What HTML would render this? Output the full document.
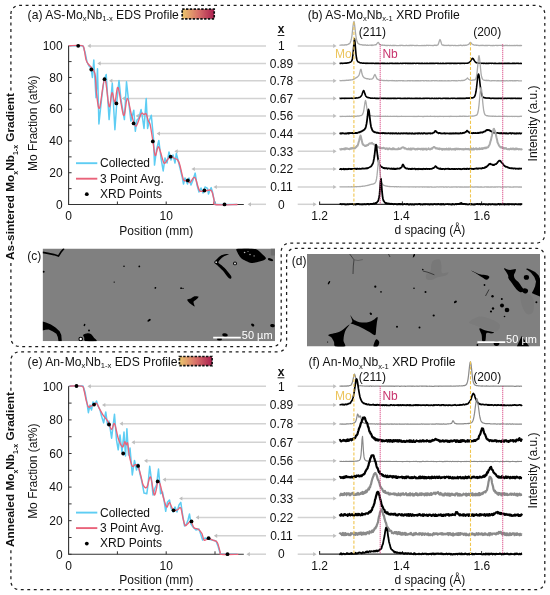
<!DOCTYPE html>
<html><head><meta charset="utf-8"><style>
html,body{margin:0;padding:0;background:#fff;width:550px;height:595px;overflow:hidden}
svg{display:block}
text{font-family:'Liberation Sans', Arial, Helvetica, sans-serif;fill:#111}
</style></head><body>
<svg width="550" height="595" viewBox="0 0 550 595">
<defs>
<linearGradient id="g1" x1="0" x2="1" y1="0" y2="0">
<stop offset="0" stop-color="#ebc66c"/><stop offset="0.5" stop-color="#d9726a"/><stop offset="1" stop-color="#ab1f50"/>
</linearGradient>
</defs>
<rect width="550" height="595" fill="#fff"/>
<path d="M10.9,13.9 A8.5,8.5 0 0 1 19.4,5.4 H536.3 A8.5,8.5 0 0 1 544.8,13.9 V234.6 A8.5,8.5 0 0 1 536.3,243.1 H289.7 A8.5,8.5 0 0 0 281.2,251.6 V338.0 A8.5,8.5 0 0 1 272.7,346.5 H19.4 A8.5,8.5 0 0 1 10.9,338.0 Z" fill="none" stroke="#1c1c1c" stroke-width="1.25" stroke-dasharray="2.9 3.6"/>
<path d="M286.6,256.8 A8.5,8.5 0 0 1 295.1,248.3 H536.3 A8.5,8.5 0 0 1 544.8,256.8 V581.2 A8.5,8.5 0 0 1 536.3,589.7 H19.4 A8.5,8.5 0 0 1 10.9,581.2 V360.3 A8.5,8.5 0 0 1 19.4,351.8 H278.1 A8.5,8.5 0 0 0 286.6,343.3 Z" fill="none" stroke="#1c1c1c" stroke-width="1.25" stroke-dasharray="2.9 3.6"/>
<g transform="translate(14.2,176.55) rotate(-90)"><rect x="-83.95" y="-9.5" width="167.9" height="12.5" fill="#fff"/><text x="0" y="0" text-anchor="middle" font-weight="bold" font-size="11.8">As-sintered Mo<tspan font-size="7" dy="3.4">x</tspan><tspan dy="-3.4">Nb</tspan><tspan font-size="7" dy="3.4">1-x</tspan><tspan dy="-3.4"> Gradient</tspan></text></g>
<g transform="translate(14.2,469.5) rotate(-90)"><rect x="-78" y="-9.5" width="156" height="12.5" fill="#fff"/><text x="0" y="0" text-anchor="middle" font-weight="bold" font-size="11.8">Annealed Mo<tspan font-size="7" dy="3.4">x</tspan><tspan dy="-3.4">Nb</tspan><tspan font-size="7" dy="3.4">1-x</tspan><tspan dy="-3.4"> Gradient</tspan></text></g>
<text transform="translate(36.6,123.25) rotate(-90)" text-anchor="middle" font-size="12">Mo Fraction (at%)</text>
<text transform="translate(36.6,471.2) rotate(-90)" text-anchor="middle" font-size="12">Mo Fraction (at%)</text>
<text transform="translate(536.8,123.4) rotate(-90)" text-anchor="middle" font-size="12">Intensity (a.u.)</text>
<text transform="translate(536.8,470.4) rotate(-90)" text-anchor="middle" font-size="12">Intensity (a.u.)</text>
<text x="27.6" y="18.6" font-size="12.15">(a) AS-<tspan dx="0.6">Mo</tspan><tspan font-size="7.6" dy="2.4">x</tspan><tspan dy="-2.4">Nb</tspan><tspan font-size="7.6" dy="2.4">1-x</tspan><tspan dy="-2.4"> EDS Profile</tspan></text>
<rect x="182.2" y="9.1" width="32.0" height="9.700000000000001" fill="url(#g1)" stroke="#111" stroke-width="1.7" stroke-dasharray="2.4 1.4"/>
<text x="307.7" y="18.5" font-size="12.15">(b) AS-<tspan dx="0.6">Mo</tspan><tspan font-size="7.6" dy="2.4">x</tspan><tspan dy="-2.4">Nb</tspan><tspan font-size="7.6" dy="2.4">x-1</tspan><tspan dy="-2.4"> XRD Profile</tspan></text>
<text x="27.6" y="365.9" font-size="12.15">(e) An-<tspan dx="0.6">Mo</tspan><tspan font-size="7.6" dy="2.4">x</tspan><tspan dy="-2.4">Nb</tspan><tspan font-size="7.6" dy="2.4">1-x</tspan><tspan dy="-2.4"> EDS Profile</tspan></text>
<rect x="179.4" y="356.5" width="32.69999999999999" height="9.199999999999989" fill="url(#g1)" stroke="#111" stroke-width="1.7" stroke-dasharray="2.4 1.4"/>
<text x="308.4" y="366.4" font-size="12.15">(f) An-<tspan dx="0.6">Mo</tspan><tspan font-size="7.6" dy="2.4">x</tspan><tspan dy="-2.4">Nb</tspan><tspan font-size="7.6" dy="2.4">x-1</tspan><tspan dy="-2.4"> XRD Profile</tspan></text>
<text x="281" y="33.2" text-anchor="middle" font-size="12" font-weight="bold">x</text>
<line x1="277.6" y1="35.5" x2="284.4" y2="35.5" stroke="#222" stroke-width="1"/>
<line x1="89.3" y1="45.9" x2="266" y2="45.9" stroke="#d2d2d2" stroke-width="1.5"/><path d="M87.3,45.9 l3.4,-2.1 v4.2 z" fill="#bdbdbd"/>
<text x="281.4" y="50.1" text-anchor="middle" font-size="12">1</text>
<line x1="297.7" y1="45.9" x2="334.6" y2="45.9" stroke="#d2d2d2" stroke-width="1.5"/><path d="M336.6,45.9 l-3.4,-2.1 v4.2 z" fill="#bdbdbd"/>
<line x1="99.3" y1="63.4" x2="266" y2="63.4" stroke="#d2d2d2" stroke-width="1.5"/><path d="M97.3,63.4 l3.4,-2.1 v4.2 z" fill="#bdbdbd"/>
<text x="281.4" y="67.6" text-anchor="middle" font-size="12">0.89</text>
<line x1="297.7" y1="63.4" x2="334.6" y2="63.4" stroke="#d2d2d2" stroke-width="1.5"/><path d="M336.6,63.4 l-3.4,-2.1 v4.2 z" fill="#bdbdbd"/>
<line x1="111" y1="80.8" x2="266" y2="80.8" stroke="#d2d2d2" stroke-width="1.5"/><path d="M109,80.8 l3.4,-2.1 v4.2 z" fill="#bdbdbd"/>
<text x="281.4" y="85" text-anchor="middle" font-size="12">0.78</text>
<line x1="297.7" y1="80.8" x2="334.6" y2="80.8" stroke="#d2d2d2" stroke-width="1.5"/><path d="M336.6,80.8 l-3.4,-2.1 v4.2 z" fill="#bdbdbd"/>
<line x1="123.8" y1="98.4" x2="266" y2="98.4" stroke="#d2d2d2" stroke-width="1.5"/><path d="M121.8,98.4 l3.4,-2.1 v4.2 z" fill="#bdbdbd"/>
<text x="281.4" y="102.6" text-anchor="middle" font-size="12">0.67</text>
<line x1="297.7" y1="98.4" x2="334.6" y2="98.4" stroke="#d2d2d2" stroke-width="1.5"/><path d="M336.6,98.4 l-3.4,-2.1 v4.2 z" fill="#bdbdbd"/>
<line x1="137.5" y1="115.9" x2="266" y2="115.9" stroke="#d2d2d2" stroke-width="1.5"/><path d="M135.5,115.9 l3.4,-2.1 v4.2 z" fill="#bdbdbd"/>
<text x="281.4" y="120.1" text-anchor="middle" font-size="12">0.56</text>
<line x1="297.7" y1="115.9" x2="334.6" y2="115.9" stroke="#d2d2d2" stroke-width="1.5"/><path d="M336.6,115.9 l-3.4,-2.1 v4.2 z" fill="#bdbdbd"/>
<line x1="158.6" y1="133.6" x2="266" y2="133.6" stroke="#d2d2d2" stroke-width="1.5"/><path d="M156.6,133.6 l3.4,-2.1 v4.2 z" fill="#bdbdbd"/>
<text x="281.4" y="137.8" text-anchor="middle" font-size="12">0.44</text>
<line x1="297.7" y1="133.6" x2="334.6" y2="133.6" stroke="#d2d2d2" stroke-width="1.5"/><path d="M336.6,133.6 l-3.4,-2.1 v4.2 z" fill="#bdbdbd"/>
<line x1="176.3" y1="151.3" x2="266" y2="151.3" stroke="#d2d2d2" stroke-width="1.5"/><path d="M174.3,151.3 l3.4,-2.1 v4.2 z" fill="#bdbdbd"/>
<text x="281.4" y="155.5" text-anchor="middle" font-size="12">0.33</text>
<line x1="297.7" y1="151.3" x2="334.6" y2="151.3" stroke="#d2d2d2" stroke-width="1.5"/><path d="M336.6,151.3 l-3.4,-2.1 v4.2 z" fill="#bdbdbd"/>
<line x1="193.4" y1="169" x2="266" y2="169" stroke="#d2d2d2" stroke-width="1.5"/><path d="M191.4,169 l3.4,-2.1 v4.2 z" fill="#bdbdbd"/>
<text x="281.4" y="173.2" text-anchor="middle" font-size="12">0.22</text>
<line x1="297.7" y1="169" x2="334.6" y2="169" stroke="#d2d2d2" stroke-width="1.5"/><path d="M336.6,169 l-3.4,-2.1 v4.2 z" fill="#bdbdbd"/>
<line x1="215.4" y1="187" x2="266" y2="187" stroke="#d2d2d2" stroke-width="1.5"/><path d="M213.4,187 l3.4,-2.1 v4.2 z" fill="#bdbdbd"/>
<text x="281.4" y="191.2" text-anchor="middle" font-size="12">0.11</text>
<line x1="297.7" y1="187" x2="334.6" y2="187" stroke="#d2d2d2" stroke-width="1.5"/><path d="M336.6,187 l-3.4,-2.1 v4.2 z" fill="#bdbdbd"/>
<line x1="249.6" y1="204.3" x2="266" y2="204.3" stroke="#d2d2d2" stroke-width="1.5"/><path d="M247.6,204.3 l3.4,-2.1 v4.2 z" fill="#bdbdbd"/>
<text x="281.4" y="208.5" text-anchor="middle" font-size="12">0</text>
<line x1="297.7" y1="204.3" x2="314.6" y2="204.3" stroke="#d2d2d2" stroke-width="1.5"/><path d="M316.6,204.3 l-3.4,-2.1 v4.2 z" fill="#bdbdbd"/>
<text x="281" y="375.5" text-anchor="middle" font-size="12" font-weight="bold">x</text>
<line x1="277.6" y1="377.8" x2="284.4" y2="377.8" stroke="#222" stroke-width="1"/>
<line x1="89.4" y1="386.3" x2="266" y2="386.3" stroke="#d2d2d2" stroke-width="1.5"/><path d="M87.4,386.3 l3.4,-2.1 v4.2 z" fill="#bdbdbd"/>
<text x="281.4" y="390.5" text-anchor="middle" font-size="12">1</text>
<line x1="297.7" y1="386.3" x2="334.6" y2="386.3" stroke="#d2d2d2" stroke-width="1.5"/><path d="M336.6,386.3 l-3.4,-2.1 v4.2 z" fill="#bdbdbd"/>
<line x1="103.9" y1="405" x2="266" y2="405" stroke="#d2d2d2" stroke-width="1.5"/><path d="M101.9,405 l3.4,-2.1 v4.2 z" fill="#bdbdbd"/>
<text x="281.4" y="409.2" text-anchor="middle" font-size="12">0.89</text>
<line x1="297.7" y1="405" x2="334.6" y2="405" stroke="#d2d2d2" stroke-width="1.5"/><path d="M336.6,405 l-3.4,-2.1 v4.2 z" fill="#bdbdbd"/>
<line x1="121.5" y1="423.7" x2="266" y2="423.7" stroke="#d2d2d2" stroke-width="1.5"/><path d="M119.5,423.7 l3.4,-2.1 v4.2 z" fill="#bdbdbd"/>
<text x="281.4" y="427.9" text-anchor="middle" font-size="12">0.78</text>
<line x1="297.7" y1="423.7" x2="334.6" y2="423.7" stroke="#d2d2d2" stroke-width="1.5"/><path d="M336.6,423.7 l-3.4,-2.1 v4.2 z" fill="#bdbdbd"/>
<line x1="133.4" y1="442.3" x2="266" y2="442.3" stroke="#d2d2d2" stroke-width="1.5"/><path d="M131.4,442.3 l3.4,-2.1 v4.2 z" fill="#bdbdbd"/>
<text x="281.4" y="446.5" text-anchor="middle" font-size="12">0.67</text>
<line x1="297.7" y1="442.3" x2="334.6" y2="442.3" stroke="#d2d2d2" stroke-width="1.5"/><path d="M336.6,442.3 l-3.4,-2.1 v4.2 z" fill="#bdbdbd"/>
<line x1="146" y1="460.8" x2="266" y2="460.8" stroke="#d2d2d2" stroke-width="1.5"/><path d="M144,460.8 l3.4,-2.1 v4.2 z" fill="#bdbdbd"/>
<text x="281.4" y="465" text-anchor="middle" font-size="12">0.56</text>
<line x1="297.7" y1="460.8" x2="334.6" y2="460.8" stroke="#d2d2d2" stroke-width="1.5"/><path d="M336.6,460.8 l-3.4,-2.1 v4.2 z" fill="#bdbdbd"/>
<line x1="164.5" y1="479.6" x2="266" y2="479.6" stroke="#d2d2d2" stroke-width="1.5"/><path d="M162.5,479.6 l3.4,-2.1 v4.2 z" fill="#bdbdbd"/>
<text x="281.4" y="483.8" text-anchor="middle" font-size="12">0.44</text>
<line x1="297.7" y1="479.6" x2="334.6" y2="479.6" stroke="#d2d2d2" stroke-width="1.5"/><path d="M336.6,479.6 l-3.4,-2.1 v4.2 z" fill="#bdbdbd"/>
<line x1="181" y1="498.5" x2="266" y2="498.5" stroke="#d2d2d2" stroke-width="1.5"/><path d="M179,498.5 l3.4,-2.1 v4.2 z" fill="#bdbdbd"/>
<text x="281.4" y="502.7" text-anchor="middle" font-size="12">0.33</text>
<line x1="297.7" y1="498.5" x2="334.6" y2="498.5" stroke="#d2d2d2" stroke-width="1.5"/><path d="M336.6,498.5 l-3.4,-2.1 v4.2 z" fill="#bdbdbd"/>
<line x1="197.6" y1="517.4" x2="266" y2="517.4" stroke="#d2d2d2" stroke-width="1.5"/><path d="M195.6,517.4 l3.4,-2.1 v4.2 z" fill="#bdbdbd"/>
<text x="281.4" y="521.6" text-anchor="middle" font-size="12">0.22</text>
<line x1="297.7" y1="517.4" x2="334.6" y2="517.4" stroke="#d2d2d2" stroke-width="1.5"/><path d="M336.6,517.4 l-3.4,-2.1 v4.2 z" fill="#bdbdbd"/>
<line x1="215.8" y1="535.8" x2="266" y2="535.8" stroke="#d2d2d2" stroke-width="1.5"/><path d="M213.8,535.8 l3.4,-2.1 v4.2 z" fill="#bdbdbd"/>
<text x="281.4" y="540" text-anchor="middle" font-size="12">0.11</text>
<line x1="297.7" y1="535.8" x2="334.6" y2="535.8" stroke="#d2d2d2" stroke-width="1.5"/><path d="M336.6,535.8 l-3.4,-2.1 v4.2 z" fill="#bdbdbd"/>
<line x1="248.4" y1="554.2" x2="266" y2="554.2" stroke="#d2d2d2" stroke-width="1.5"/><path d="M246.4,554.2 l3.4,-2.1 v4.2 z" fill="#bdbdbd"/>
<text x="281.4" y="558.4" text-anchor="middle" font-size="12">0</text>
<line x1="297.7" y1="554.2" x2="314.6" y2="554.2" stroke="#d2d2d2" stroke-width="1.5"/><path d="M316.6,554.2 l-3.4,-2.1 v4.2 z" fill="#bdbdbd"/>
<path d="M68.6,45.7 V204.5 H243.8" fill="none" stroke="#333" stroke-width="1.1"/>
<line x1="68.6" y1="204.5" x2="71.6" y2="204.5" stroke="#333" stroke-width="1"/>
<text x="62.7" y="208.7" text-anchor="end" font-size="12">0</text>
<line x1="68.6" y1="188.62" x2="71.6" y2="188.62" stroke="#333" stroke-width="1"/>
<line x1="68.6" y1="172.74" x2="71.6" y2="172.74" stroke="#333" stroke-width="1"/>
<text x="62.7" y="176.94" text-anchor="end" font-size="12">20</text>
<line x1="68.6" y1="156.86" x2="71.6" y2="156.86" stroke="#333" stroke-width="1"/>
<line x1="68.6" y1="140.98" x2="71.6" y2="140.98" stroke="#333" stroke-width="1"/>
<text x="62.7" y="145.18" text-anchor="end" font-size="12">40</text>
<line x1="68.6" y1="125.1" x2="71.6" y2="125.1" stroke="#333" stroke-width="1"/>
<line x1="68.6" y1="109.22" x2="71.6" y2="109.22" stroke="#333" stroke-width="1"/>
<text x="62.7" y="113.42" text-anchor="end" font-size="12">60</text>
<line x1="68.6" y1="93.34" x2="71.6" y2="93.34" stroke="#333" stroke-width="1"/>
<line x1="68.6" y1="77.46" x2="71.6" y2="77.46" stroke="#333" stroke-width="1"/>
<text x="62.7" y="81.66" text-anchor="end" font-size="12">80</text>
<line x1="68.6" y1="61.58" x2="71.6" y2="61.58" stroke="#333" stroke-width="1"/>
<line x1="68.6" y1="45.7" x2="71.6" y2="45.7" stroke="#333" stroke-width="1"/>
<text x="62.7" y="49.9" text-anchor="end" font-size="12">100</text>
<line x1="117.4" y1="204.5" x2="117.4" y2="201.5" stroke="#333" stroke-width="1"/>
<line x1="166.2" y1="204.5" x2="166.2" y2="201.5" stroke="#333" stroke-width="1"/>
<line x1="215" y1="204.5" x2="215" y2="201.5" stroke="#333" stroke-width="1"/>
<text x="68.6" y="219.7" text-anchor="middle" font-size="12">0</text>
<text x="166.2" y="219.7" text-anchor="middle" font-size="12">10</text>
<text x="156.3" y="234.5" text-anchor="middle" font-size="12">Position (mm)</text>
<polyline points="69,45.7 83,45.7 85,52 87,62 89,66 91,68 92.4,77.5 93.8,60 94.5,72 96,97.8 97.5,68.7 98.9,124 102,95 104,80 106.2,74.5 109.1,119.6 112.3,83.3 114.9,129.8 117,100 119,80.4 121,100 124.4,119.6 126.5,81.8 128.5,100 130.9,121.1 133.8,110.2 135.3,131.3 137,120 139,118 141.1,109.5 142.5,118 144,128.4 146.2,98.5 147.6,128.4 149.5,120 151.3,115.3 153.5,138.5 154.5,165.1 156.5,150 158.8,140.4 161,158 163.2,170.9 165,158 167,163 169,152 171,160 173,155 175,163 176.3,153.5 178,160 180,168 182.1,176.7 183.5,184 185,178 187.5,184 189,178 191,185 193,180 195.2,173.1 197,185 199,192 201,188 203,193 205,187 207.5,188.4 208.5,194 210,190 211.2,187.6 212.5,192 214,200 215,204.5 237,204.5" fill="none" stroke="#5ecdf3" stroke-width="1.5" stroke-linejoin="round"/>
<path d="M69,45.7 C71.2,45.7 79.63,44.83 82.2,45.7 C84.77,46.57 83.77,48.58 84.4,50.9 C85.03,53.22 85.37,57.42 86,59.6 C86.63,61.78 87.38,62.82 88.2,64 C89.02,65.18 89.97,65.55 90.9,66.7 C91.83,67.85 93.07,69.35 93.8,70.9 C94.53,72.45 94.82,72 95.3,76 C95.78,80 95.98,89.57 96.7,94.9 C97.42,100.23 98.27,110.67 99.6,108 C100.93,105.33 103.12,79.15 104.7,78.9 C106.28,78.65 107.88,104.2 109.1,106.5 C110.32,108.8 111.03,93.42 112,92.7 C112.97,91.98 113.88,103.05 114.9,102.2 C115.92,101.35 116.65,85.42 118.1,87.6 C119.55,89.78 122.07,113.48 123.6,115.3 C125.13,117.12 125.97,98.5 127.3,98.5 C128.63,98.5 130.15,110.68 131.6,115.3 C133.05,119.92 134.42,126.45 136,126.2 C137.58,125.95 139.77,115.75 141.1,113.8 C142.43,111.85 143.15,114.5 144,114.5 C144.85,114.5 145.47,112.7 146.2,113.8 C146.93,114.9 147.75,119.33 148.4,121.1 C149.05,122.87 149.33,120.95 150.1,124.4 C150.87,127.85 152.15,136.6 153,141.8 C153.85,147 154.35,154.75 155.2,155.6 C156.05,156.45 157.25,147.62 158.1,146.9 C158.95,146.18 159.33,148.63 160.3,151.3 C161.27,153.97 162.82,161.33 163.9,162.9 C164.98,164.47 165.7,161.78 166.8,160.7 C167.9,159.62 169.17,156.77 170.5,156.4 C171.83,156.03 173.6,157.9 174.8,158.5 C176,159.1 176.85,158.9 177.7,160 C178.55,161.1 178.93,161.83 179.9,165.1 C180.87,168.37 182.28,177.05 183.5,179.6 C184.72,182.15 186.1,179.92 187.2,180.4 C188.3,180.88 189.02,182.98 190.1,182.5 C191.18,182.02 192.73,177.98 193.7,177.5 C194.67,177.02 194.93,177.43 195.9,179.6 C196.87,181.77 198.05,188.6 199.5,190.5 C200.95,192.4 202.65,191 204.6,191 C206.55,191 209.62,189 211.2,190.5 C212.78,192 213.38,197.67 214.1,200 C214.82,202.33 211.6,203.75 215.5,204.5 C219.4,205.25 233.83,204.5 237.5,204.5" fill="none" stroke="#e9637a" stroke-width="1.35" stroke-linejoin="round"/>
<circle cx="78.2" cy="45.8" r="1.9" fill="#000"/>
<circle cx="91.3" cy="69.5" r="1.9" fill="#000"/>
<circle cx="104.5" cy="79.2" r="1.9" fill="#000"/>
<circle cx="116.4" cy="103.4" r="1.9" fill="#000"/>
<circle cx="133.6" cy="123.4" r="1.9" fill="#000"/>
<circle cx="152.8" cy="141.4" r="1.9" fill="#000"/>
<circle cx="170.6" cy="156.7" r="1.9" fill="#000"/>
<circle cx="187.8" cy="180.4" r="1.9" fill="#000"/>
<circle cx="204.4" cy="190.5" r="1.9" fill="#000"/>
<circle cx="224.5" cy="204.4" r="1.9" fill="#000"/>
<line x1="76" y1="163.2" x2="97.3" y2="163.2" stroke="#5ecdf3" stroke-width="1.9"/>
<text x="100" y="167.1" font-size="12">Collected</text>
<line x1="76" y1="178.7" x2="97.3" y2="178.7" stroke="#e9637a" stroke-width="1.9"/>
<text x="100" y="182.6" font-size="12">3 Point Avg.</text>
<circle cx="86.8" cy="194.2" r="1.9" fill="#000"/>
<text x="100" y="198" font-size="12">XRD Points</text>
<path d="M68.6,386.3 V554.3 H243.8" fill="none" stroke="#333" stroke-width="1.1"/>
<line x1="68.6" y1="554.3" x2="71.6" y2="554.3" stroke="#333" stroke-width="1"/>
<text x="62.7" y="558.5" text-anchor="end" font-size="12">0</text>
<line x1="68.6" y1="537.5" x2="71.6" y2="537.5" stroke="#333" stroke-width="1"/>
<line x1="68.6" y1="520.7" x2="71.6" y2="520.7" stroke="#333" stroke-width="1"/>
<text x="62.7" y="524.9" text-anchor="end" font-size="12">20</text>
<line x1="68.6" y1="503.9" x2="71.6" y2="503.9" stroke="#333" stroke-width="1"/>
<line x1="68.6" y1="487.1" x2="71.6" y2="487.1" stroke="#333" stroke-width="1"/>
<text x="62.7" y="491.3" text-anchor="end" font-size="12">40</text>
<line x1="68.6" y1="470.3" x2="71.6" y2="470.3" stroke="#333" stroke-width="1"/>
<line x1="68.6" y1="453.5" x2="71.6" y2="453.5" stroke="#333" stroke-width="1"/>
<text x="62.7" y="457.7" text-anchor="end" font-size="12">60</text>
<line x1="68.6" y1="436.7" x2="71.6" y2="436.7" stroke="#333" stroke-width="1"/>
<line x1="68.6" y1="419.9" x2="71.6" y2="419.9" stroke="#333" stroke-width="1"/>
<text x="62.7" y="424.1" text-anchor="end" font-size="12">80</text>
<line x1="68.6" y1="403.1" x2="71.6" y2="403.1" stroke="#333" stroke-width="1"/>
<line x1="68.6" y1="386.3" x2="71.6" y2="386.3" stroke="#333" stroke-width="1"/>
<text x="62.7" y="390.5" text-anchor="end" font-size="12">100</text>
<line x1="117.4" y1="554.3" x2="117.4" y2="551.3" stroke="#333" stroke-width="1"/>
<line x1="166.2" y1="554.3" x2="166.2" y2="551.3" stroke="#333" stroke-width="1"/>
<line x1="215" y1="554.3" x2="215" y2="551.3" stroke="#333" stroke-width="1"/>
<text x="68.6" y="570" text-anchor="middle" font-size="12">0</text>
<text x="166.2" y="570" text-anchor="middle" font-size="12">10</text>
<text x="156.3" y="583.6" text-anchor="middle" font-size="12">Position (mm)</text>
<polyline points="69.5,386.1 83,386.1 85,392 87,403 88.4,412.7 90,405 91.5,410 93,402 95,404 96.5,401 98,406 100,410 101.5,416 103.6,422.9 105.8,412 107.5,425 109,421 111.6,438.2 114.5,414.2 116.5,440 118.2,449.8 120,435 122,452 124,432 125.5,456 126.9,428.7 128.5,455 130,448 132.3,474.9 134.5,460.4 136.5,470 138,464 140,474 142,482 144,493 146.8,493.8 148,485 149.7,466.2 151.5,480 153,495 155,488 156.5,485 158.5,469.1 160.6,493.8 162.5,492 164,500 165.7,511.3 167.5,502 169.5,500 171,508 173,512 175,507 177,512 179,505 180.8,502.3 182.5,514 184.5,526 186.5,524 188,520 189.5,513.9 191,524 193,527 196,530 199,529 201,535 202.6,540 205,538 208,539 212,540 216,541 218,546 220,553 221.5,554.3 237,554.3" fill="none" stroke="#5ecdf3" stroke-width="1.5" stroke-linejoin="round"/>
<path d="M69.5,386.1 C71.55,386.1 79.38,385.42 81.8,386.1 C84.22,386.78 83.27,387.82 84,390.2 C84.73,392.58 85.47,397.62 86.2,400.4 C86.93,403.18 87.68,405.93 88.4,406.9 C89.12,407.87 89.78,406.43 90.5,406.2 C91.22,405.97 91.72,405.98 92.7,405.5 C93.68,405.02 95.3,402.82 96.4,403.3 C97.5,403.78 98.22,406.47 99.3,408.4 C100.38,410.33 101.82,413.22 102.9,414.9 C103.98,416.58 104.83,417.17 105.8,418.5 C106.77,419.83 107.73,421.07 108.7,422.9 C109.67,424.73 110.63,429.38 111.6,429.5 C112.57,429.62 113.4,422.15 114.5,423.6 C115.6,425.05 116.87,434.32 118.2,438.2 C119.53,442.08 121.42,446.3 122.5,446.9 C123.58,447.5 124.08,442.17 124.7,441.8 C125.32,441.43 125.72,444.45 126.2,444.7 C126.68,444.95 127.07,441.42 127.6,443.3 C128.13,445.18 128.62,452.18 129.4,456 C130.18,459.82 131.33,464.75 132.3,466.2 C133.27,467.65 134.23,464.7 135.2,464.7 C136.17,464.7 137.13,464.25 138.1,466.2 C139.07,468.15 140.15,473.25 141,476.4 C141.85,479.55 142.23,483.28 143.2,485.1 C144.17,486.92 145.58,488.63 146.8,487.3 C148.02,485.97 149.28,475.9 150.5,477.1 C151.72,478.3 153.13,492.43 154.1,494.5 C155.07,496.57 155.7,491.55 156.3,489.5 C156.9,487.45 157.1,483.18 157.7,482.2 C158.3,481.22 159.05,481.42 159.9,483.6 C160.75,485.78 161.7,491.42 162.8,495.3 C163.9,499.18 165.4,505.7 166.5,506.9 C167.6,508.1 168.43,502.25 169.4,502.5 C170.37,502.75 171.33,507.07 172.3,508.4 C173.27,509.73 174.27,510.32 175.2,510.5 C176.13,510.68 176.97,509.9 177.9,509.5 C178.83,509.1 179.95,506.63 180.8,508.1 C181.65,509.57 182.27,515.4 183,518.3 C183.73,521.2 184.35,524.65 185.2,525.5 C186.05,526.35 187.13,524.12 188.1,523.4 C189.07,522.68 190.03,520.48 191,521.2 C191.97,521.92 192.68,526.37 193.9,527.7 C195.12,529.03 196.97,528.23 198.3,529.2 C199.63,530.17 200.93,531.68 201.9,533.5 C202.87,535.32 203,539.25 204.1,540.1 C205.2,540.95 207.05,538.6 208.5,538.6 C209.95,538.6 211.35,539.48 212.8,540.1 C214.25,540.72 215.98,540.37 217.2,542.3 C218.42,544.23 219.38,549.7 220.1,551.7 C220.82,553.7 218.47,553.87 221.5,554.3 C224.53,554.73 235.5,554.3 238.3,554.3" fill="none" stroke="#e9637a" stroke-width="1.35" stroke-linejoin="round"/>
<circle cx="76.5" cy="386" r="1.9" fill="#000"/>
<circle cx="94.1" cy="404.6" r="1.9" fill="#000"/>
<circle cx="109" cy="424.5" r="1.9" fill="#000"/>
<circle cx="123.2" cy="453.5" r="1.9" fill="#000"/>
<circle cx="138.1" cy="465.9" r="1.9" fill="#000"/>
<circle cx="157.7" cy="481.4" r="1.9" fill="#000"/>
<circle cx="173.6" cy="510.3" r="1.9" fill="#000"/>
<circle cx="191.5" cy="521.4" r="1.9" fill="#000"/>
<circle cx="208.6" cy="538.2" r="1.9" fill="#000"/>
<circle cx="227.5" cy="554.2" r="1.9" fill="#000"/>
<line x1="76" y1="512.6" x2="97.3" y2="512.6" stroke="#5ecdf3" stroke-width="1.9"/>
<text x="100" y="516.5" font-size="12">Collected</text>
<line x1="76" y1="528.1" x2="97.3" y2="528.1" stroke="#e9637a" stroke-width="1.9"/>
<text x="100" y="532" font-size="12">3 Point Avg.</text>
<circle cx="86.8" cy="543.6" r="1.9" fill="#000"/>
<text x="100" y="547.4" font-size="12">XRD Points</text>
<path d="M319.6,201.4 V204.4 H522.2" fill="none" stroke="#333" stroke-width="1.1"/>
<line x1="402.4" y1="204.4" x2="402.4" y2="201.4" stroke="#333" stroke-width="1"/>
<line x1="481.6" y1="204.4" x2="481.6" y2="201.4" stroke="#333" stroke-width="1"/>
<text x="319.7" y="219.6" text-anchor="middle" font-size="12">1.2</text>
<text x="401.3" y="219.6" text-anchor="middle" font-size="12">1.4</text>
<text x="481.8" y="219.6" text-anchor="middle" font-size="12">1.6</text>
<text x="429.8" y="233.5" text-anchor="middle" font-size="12">d spacing (Å)</text>
<path d="M339.5,45.18 L340,45.28 L340.5,45.06 L341,45.17 L341.5,45.02 L342,44.96 L342.5,45.07 L343,44.96 L343.5,45.03 L344,45.2 L344.5,44.81 L345,45.05 L345.5,44.75 L346,45 L346.5,44.89 L347,44.53 L347.5,44.72 L348,44.5 L348.5,43.97 L349,43.87 L349.5,43.63 L350,43.15 L350.5,41.85 L351,40.41 L351.5,38.41 L352,35.28 L352.5,30.71 L353,26.13 L353.5,22.73 L354,21.47 L354.5,23.82 L355,28.35 L355.5,32.78 L356,36.53 L356.5,39.46 L357,41.32 L357.5,42.59 L358,43.28 L358.5,43.74 L359,43.81 L359.5,44.47 L360,44.65 L360.5,44.51 L361,44.76 L361.5,44.55 L362,44.87 L362.5,45 L363,44.89 L363.5,44.99 L364,45.24 L364.5,44.93 L365,45.12 L365.5,44.96 L366,45.13 L366.5,45.39 L367,45.28 L367.5,45 L368,45.42 L368.5,45.33 L369,45.27 L369.5,45.16 L370,45.16 L370.5,45.1 L371,45.32 L371.5,45.03 L372,45.46 L372.5,45.02 L373,45.26 L373.5,45.2 L374,45.04 L374.5,44.93 L375,44.9 L375.5,44.69 L376,44.76 L376.5,44.2 L377,43.55 L377.5,42.89 L378,42.42 L378.5,42.64 L379,43.31 L379.5,44.38 L380,44.72 L380.5,44.6 L381,45.02 L381.5,45.22 L382,45.36 L382.5,45 L383,45.08 L383.5,45.24 L384,45.37 L384.5,45.13 L385,45.45 L385.5,45.5 L386,45.35 L386.5,45.56 L387,45.34 L387.5,45.57 L388,45.35 L388.5,45.37 L389,45.36 L389.5,45.53 L390,45.62 L390.5,45.22 L391,45.48 L391.5,45.61 L392,45.54 L392.5,45.31 L393,45.38 L393.5,45.64 L394,45.31 L394.5,45.68 L395,45.4 L395.5,45.47 L396,45.56 L396.5,45.55 L397,45.51 L397.5,45.65 L398,45.53 L398.5,45.67 L399,45.54 L399.5,45.51 L400,45.25 L400.5,45.67 L401,45.33 L401.5,45.33 L402,45.24 L402.5,45.53 L403,45.41 L403.5,45.55 L404,45.63 L404.5,45.69 L405,45.62 L405.5,45.64 L406,45.41 L406.5,45.25 L407,45.61 L407.5,45.72 L408,45.46 L408.5,45.68 L409,45.51 L409.5,45.42 L410,45.64 L410.5,45.26 L411,45.41 L411.5,45.58 L412,45.27 L412.5,45.5 L413,45.42 L413.5,45.34 L414,45.43 L414.5,45.6 L415,45.56 L415.5,45.52 L416,45.62 L416.5,45.43 L417,45.52 L417.5,45.28 L418,45.56 L418.5,45.56 L419,45.54 L419.5,45.63 L420,45.72 L420.5,45.59 L421,45.71 L421.5,45.55 L422,45.37 L422.5,45.66 L423,45.56 L423.5,45.54 L424,45.3 L424.5,45.51 L425,45.39 L425.5,45.51 L426,45.68 L426.5,45.41 L427,45.23 L427.5,45.28 L428,45.49 L428.5,45.64 L429,45.24 L429.5,45.42 L430,45.38 L430.5,45.43 L431,45.52 L431.5,45.45 L432,45.33 L432.5,45.62 L433,45.58 L433.5,45.62 L434,45.22 L434.5,45.41 L435,45.24 L435.5,45.15 L436,45.53 L436.5,45.35 L437,45.16 L437.5,45.13 L438,44.74 L438.5,43.64 L439,41.95 L439.5,40.58 L440,39.49 L440.5,40.34 L441,41.99 L441.5,43.66 L442,44.75 L442.5,45.21 L443,45 L443.5,45.08 L444,45.56 L444.5,45.36 L445,45.44 L445.5,45.49 L446,45.36 L446.5,45.36 L447,45.61 L447.5,45.49 L448,45.2 L448.5,45.21 L449,45.61 L449.5,45.49 L450,45.57 L450.5,45.45 L451,45.56 L451.5,45.38 L452,45.39 L452.5,45.38 L453,45.35 L453.5,45.68 L454,45.64 L454.5,45.48 L455,45.23 L455.5,45.67 L456,45.61 L456.5,45.52 L457,45.68 L457.5,45.57 L458,45.5 L458.5,45.36 L459,45.5 L459.5,45.39 L460,45.26 L460.5,45.25 L461,45.22 L461.5,45.5 L462,45.33 L462.5,45.63 L463,45.58 L463.5,45.25 L464,45.14 L464.5,45.48 L465,45.45 L465.5,45.17 L466,45.31 L466.5,45.32 L467,44.98 L467.5,44.83 L468,44.71 L468.5,44.51 L469,43.99 L469.5,43.53 L470,42.51 L470.5,42.3 L471,42.72 L471.5,43.76 L472,43.99 L472.5,44.27 L473,44.57 L473.5,44.69 L474,45.07 L474.5,45.21 L475,45.1 L475.5,45.02 L476,45.06 L476.5,45.42 L477,45.1 L477.5,45.24 L478,45.36 L478.5,45.35 L479,45.62 L479.5,45.63 L480,45.42 L480.5,45.49 L481,45.36 L481.5,45.51 L482,45.22 L482.5,45.29 L483,45.62 L483.5,45.44 L484,45.46 L484.5,45.63 L485,45.54 L485.5,45.3 L486,45.45 L486.5,45.65 L487,45.4 L487.5,45.7 L488,45.32 L488.5,45.42 L489,45.32 L489.5,45.37 L490,45.34 L490.5,45.56 L491,45.61 L491.5,45.67 L492,45.3 L492.5,45.73 L493,45.58 L493.5,45.37 L494,45.57 L494.5,45.54 L495,45.41 L495.5,45.37 L496,45.28 L496.5,45.34 L497,45.67 L497.5,45.42 L498,45.56 L498.5,45.46 L499,45.36 L499.5,45.45 L500,45.35 L500.5,45.45 L501,45.34 L501.5,45.31 L502,45.64 L502.5,45.4 L503,45.58 L503.5,45.7 L504,45.7 L504.5,45.66 L505,45.49 L505.5,45.5 L506,45.25 L506.5,45.58 L507,45.49 L507.5,45.41 L508,45.67 L508.5,45.62 L509,45.64 L509.5,45.41 L510,45.5 L510.5,45.63 L511,45.7 L511.5,45.49 L512,45.6 L512.5,45.53 L513,45.36 L513.5,45.68 L514,45.51 L514.5,45.33 L515,45.53 L515.5,45.67 L516,45.32 L516.5,45.33 L517,45.56 L517.5,45.31 L518,45.63 L518.5,45.55 L519,45.48 L519.5,45.47 L520,45.73 L520.5,45.4 L521,45.53 L521.5,45.46 L522,45.72" fill="none" stroke="#aaaaaa" stroke-width="1.3" stroke-linejoin="round"/>
<path d="M339.5,63.3 L340,63.34 L340.5,63.26 L341,63.41 L341.5,63.13 L342,63.41 L342.5,63.31 L343,63.33 L343.5,63.32 L344,63.12 L344.5,63.29 L345,63.21 L345.5,63.04 L346,63.22 L346.5,63.06 L347,63.1 L347.5,62.85 L348,62.97 L348.5,62.68 L349,62.6 L349.5,62.48 L350,62.28 L350.5,62.2 L351,61.74 L351.5,61.14 L352,60.24 L352.5,58.14 L353,54.28 L353.5,48.52 L354,42.17 L354.5,38.81 L355,42.06 L355.5,48.55 L356,54.27 L356.5,58.05 L357,60.05 L357.5,61.08 L358,61.81 L358.5,62.09 L359,62.29 L359.5,62.53 L360,62.78 L360.5,62.93 L361,62.77 L361.5,63.07 L362,62.97 L362.5,63.18 L363,63.23 L363.5,63.08 L364,63.21 L364.5,63.21 L365,63.13 L365.5,63.36 L366,63.29 L366.5,63.39 L367,63.16 L367.5,63.2 L368,63.41 L368.5,63.23 L369,63.26 L369.5,63.24 L370,63.41 L370.5,63.26 L371,63.21 L371.5,63.21 L372,63.46 L372.5,63.2 L373,63.24 L373.5,63.29 L374,63.36 L374.5,63.45 L375,63.49 L375.5,63.34 L376,63.41 L376.5,63.3 L377,63.36 L377.5,63.22 L378,63.43 L378.5,63.37 L379,63.42 L379.5,63.47 L380,63.46 L380.5,63.51 L381,63.44 L381.5,63.25 L382,63.32 L382.5,63.41 L383,63.26 L383.5,63.34 L384,63.34 L384.5,63.27 L385,63.35 L385.5,63.43 L386,63.51 L386.5,63.43 L387,63.41 L387.5,63.28 L388,63.52 L388.5,63.46 L389,63.44 L389.5,63.37 L390,63.4 L390.5,63.26 L391,63.32 L391.5,63.24 L392,63.53 L392.5,63.34 L393,63.43 L393.5,63.46 L394,63.38 L394.5,63.53 L395,63.53 L395.5,63.38 L396,63.25 L396.5,63.47 L397,63.39 L397.5,63.24 L398,63.46 L398.5,63.42 L399,63.53 L399.5,63.42 L400,63.36 L400.5,63.27 L401,63.29 L401.5,63.46 L402,63.49 L402.5,63.34 L403,63.41 L403.5,63.3 L404,63.24 L404.5,63.31 L405,63.28 L405.5,63.49 L406,63.27 L406.5,63.3 L407,63.37 L407.5,63.51 L408,63.33 L408.5,63.33 L409,63.47 L409.5,63.38 L410,63.51 L410.5,63.39 L411,63.32 L411.5,63.51 L412,63.42 L412.5,63.38 L413,63.49 L413.5,63.34 L414,63.3 L414.5,63.3 L415,63.32 L415.5,63.48 L416,63.49 L416.5,63.29 L417,63.25 L417.5,63.3 L418,63.24 L418.5,63.42 L419,63.34 L419.5,63.43 L420,63.29 L420.5,63.44 L421,63.47 L421.5,63.33 L422,63.53 L422.5,63.33 L423,63.54 L423.5,63.54 L424,63.51 L424.5,63.37 L425,63.48 L425.5,63.52 L426,63.35 L426.5,63.47 L427,63.35 L427.5,63.32 L428,63.51 L428.5,63.46 L429,63.47 L429.5,63.26 L430,63.37 L430.5,63.25 L431,63.39 L431.5,63.41 L432,63.36 L432.5,63.38 L433,63.37 L433.5,63.25 L434,63.36 L434.5,63.46 L435,63.4 L435.5,63.24 L436,63.3 L436.5,63.3 L437,63.25 L437.5,63.36 L438,63.31 L438.5,63.37 L439,63.46 L439.5,63.53 L440,63.4 L440.5,63.28 L441,63.51 L441.5,63.52 L442,63.47 L442.5,63.31 L443,63.39 L443.5,63.31 L444,63.43 L444.5,63.51 L445,63.45 L445.5,63.39 L446,63.45 L446.5,63.28 L447,63.36 L447.5,63.25 L448,63.25 L448.5,63.25 L449,63.36 L449.5,63.31 L450,63.47 L450.5,63.28 L451,63.38 L451.5,63.39 L452,63.32 L452.5,63.32 L453,63.33 L453.5,63.41 L454,63.49 L454.5,63.36 L455,63.51 L455.5,63.26 L456,63.44 L456.5,63.39 L457,63.43 L457.5,63.23 L458,63.24 L458.5,63.2 L459,63.25 L459.5,63.37 L460,63.48 L460.5,63.34 L461,63.41 L461.5,63.18 L462,63.18 L462.5,63.27 L463,63.38 L463.5,63.18 L464,63.34 L464.5,63.41 L465,63.3 L465.5,63.32 L466,63.2 L466.5,63.31 L467,63.25 L467.5,63.19 L468,62.98 L468.5,62.89 L469,62.61 L469.5,62.24 L470,61.97 L470.5,61.18 L471,60.31 L471.5,59.42 L472,58.89 L472.5,58.37 L473,58.44 L473.5,59.23 L474,60.03 L474.5,60.89 L475,61.56 L475.5,62.14 L476,62.53 L476.5,62.75 L477,62.85 L477.5,62.91 L478,63.13 L478.5,63.15 L479,63.06 L479.5,63.08 L480,63.19 L480.5,63.15 L481,63.19 L481.5,63.28 L482,63.35 L482.5,63.18 L483,63.36 L483.5,63.37 L484,63.26 L484.5,63.33 L485,63.48 L485.5,63.49 L486,63.41 L486.5,63.33 L487,63.33 L487.5,63.41 L488,63.51 L488.5,63.35 L489,63.41 L489.5,63.3 L490,63.25 L490.5,63.26 L491,63.29 L491.5,63.45 L492,63.29 L492.5,63.27 L493,63.33 L493.5,63.46 L494,63.52 L494.5,63.39 L495,63.52 L495.5,63.31 L496,63.53 L496.5,63.52 L497,63.46 L497.5,63.51 L498,63.49 L498.5,63.48 L499,63.25 L499.5,63.37 L500,63.25 L500.5,63.47 L501,63.4 L501.5,63.31 L502,63.41 L502.5,63.46 L503,63.48 L503.5,63.47 L504,63.38 L504.5,63.48 L505,63.34 L505.5,63.43 L506,63.29 L506.5,63.42 L507,63.36 L507.5,63.37 L508,63.27 L508.5,63.49 L509,63.28 L509.5,63.46 L510,63.41 L510.5,63.54 L511,63.53 L511.5,63.52 L512,63.49 L512.5,63.26 L513,63.49 L513.5,63.25 L514,63.28 L514.5,63.47 L515,63.3 L515.5,63.41 L516,63.53 L516.5,63.29 L517,63.26 L517.5,63.33 L518,63.28 L518.5,63.39 L519,63.51 L519.5,63.47 L520,63.44 L520.5,63.4 L521,63.47 L521.5,63.45 L522,63.41" fill="none" stroke="#000000" stroke-width="1.6" stroke-linejoin="round"/>
<path d="M339.5,80.48 L340,80.61 L340.5,80.6 L341,80.78 L341.5,80.71 L342,80.69 L342.5,80.63 L343,80.41 L343.5,80.7 L344,80.49 L344.5,80.53 L345,80.32 L345.5,80.38 L346,80.57 L346.5,80.26 L347,80.22 L347.5,80.28 L348,80.26 L348.5,80.27 L349,80.23 L349.5,80.05 L350,79.92 L350.5,80 L351,79.9 L351.5,79.9 L352,79.8 L352.5,79.73 L353,79.46 L353.5,79.25 L354,79.14 L354.5,78.98 L355,78.58 L355.5,77.99 L356,77.74 L356.5,77.67 L357,77.36 L357.5,76.81 L358,76.44 L358.5,75.85 L359,75.05 L359.5,73.59 L360,71.81 L360.5,69.63 L361,69.15 L361.5,71.07 L362,73.78 L362.5,75.35 L363,76.55 L363.5,77 L364,77.67 L364.5,77.96 L365,78.14 L365.5,78.33 L366,78.51 L366.5,78.55 L367,78.89 L367.5,78.67 L368,78.9 L368.5,78.98 L369,79.11 L369.5,79.32 L370,79.05 L370.5,79.2 L371,79.18 L371.5,79.07 L372,78.99 L372.5,78.74 L373,78.21 L373.5,77.36 L374,76.07 L374.5,74.94 L375,74.42 L375.5,75.42 L376,76.67 L376.5,77.93 L377,78.81 L377.5,79.09 L378,79.51 L378.5,79.74 L379,79.79 L379.5,80.19 L380,80.3 L380.5,80.13 L381,80.14 L381.5,80.23 L382,80.46 L382.5,80.29 L383,80.53 L383.5,80.63 L384,80.32 L384.5,80.58 L385,80.6 L385.5,80.59 L386,80.62 L386.5,80.48 L387,80.44 L387.5,80.76 L388,80.48 L388.5,80.78 L389,80.74 L389.5,80.58 L390,80.63 L390.5,80.56 L391,80.54 L391.5,80.78 L392,80.49 L392.5,80.55 L393,80.86 L393.5,80.62 L394,80.71 L394.5,80.73 L395,80.76 L395.5,80.83 L396,80.81 L396.5,80.61 L397,80.64 L397.5,80.9 L398,80.87 L398.5,80.68 L399,80.63 L399.5,80.67 L400,80.85 L400.5,80.61 L401,80.54 L401.5,80.57 L402,80.61 L402.5,80.88 L403,80.59 L403.5,80.59 L404,80.83 L404.5,80.89 L405,80.92 L405.5,80.89 L406,80.91 L406.5,80.87 L407,80.92 L407.5,80.73 L408,80.89 L408.5,80.57 L409,80.65 L409.5,80.92 L410,80.72 L410.5,80.75 L411,80.83 L411.5,80.71 L412,80.57 L412.5,80.89 L413,80.64 L413.5,80.91 L414,80.78 L414.5,80.77 L415,80.95 L415.5,80.7 L416,80.86 L416.5,80.64 L417,80.88 L417.5,80.68 L418,80.9 L418.5,80.73 L419,80.9 L419.5,80.94 L420,80.64 L420.5,80.7 L421,80.95 L421.5,80.74 L422,80.59 L422.5,80.66 L423,80.73 L423.5,80.72 L424,80.8 L424.5,80.84 L425,80.61 L425.5,80.59 L426,80.65 L426.5,80.95 L427,80.65 L427.5,80.87 L428,80.85 L428.5,80.71 L429,80.93 L429.5,80.9 L430,80.9 L430.5,80.96 L431,80.77 L431.5,80.58 L432,80.93 L432.5,80.58 L433,80.63 L433.5,80.7 L434,80.72 L434.5,80.79 L435,80.59 L435.5,80.66 L436,80.83 L436.5,80.65 L437,80.69 L437.5,80.84 L438,80.78 L438.5,80.9 L439,80.94 L439.5,80.57 L440,80.61 L440.5,80.96 L441,80.73 L441.5,80.77 L442,80.59 L442.5,80.93 L443,80.76 L443.5,80.79 L444,80.87 L444.5,80.86 L445,80.57 L445.5,80.91 L446,80.89 L446.5,80.85 L447,80.91 L447.5,80.94 L448,80.68 L448.5,80.89 L449,80.72 L449.5,80.9 L450,80.8 L450.5,80.81 L451,80.83 L451.5,80.63 L452,80.66 L452.5,80.63 L453,80.6 L453.5,80.66 L454,80.86 L454.5,80.64 L455,80.62 L455.5,80.8 L456,80.77 L456.5,80.64 L457,80.88 L457.5,80.8 L458,80.7 L458.5,80.52 L459,80.68 L459.5,80.53 L460,80.69 L460.5,80.78 L461,80.52 L461.5,80.43 L462,80.58 L462.5,80.63 L463,80.28 L463.5,80.52 L464,80.47 L464.5,80.36 L465,79.89 L465.5,79.54 L466,79.42 L466.5,78.81 L467,78.48 L467.5,78.05 L468,78.59 L468.5,79.19 L469,79.49 L469.5,79.8 L470,79.86 L470.5,80.15 L471,80.35 L471.5,80.27 L472,80.37 L472.5,80.02 L473,80.14 L473.5,79.95 L474,80.13 L474.5,79.95 L475,79.83 L475.5,79.04 L476,78.31 L476.5,76.32 L477,73.01 L477.5,68.38 L478,62.83 L478.5,57.75 L479,55.73 L479.5,58 L480,62.55 L480.5,68.09 L481,73.04 L481.5,76.24 L482,78.09 L482.5,79.05 L483,79.6 L483.5,80.07 L484,80.18 L484.5,80.26 L485,80.4 L485.5,80.54 L486,80.26 L486.5,80.63 L487,80.35 L487.5,80.45 L488,80.71 L488.5,80.42 L489,80.51 L489.5,80.64 L490,80.82 L490.5,80.83 L491,80.84 L491.5,80.69 L492,80.84 L492.5,80.71 L493,80.71 L493.5,80.73 L494,80.66 L494.5,80.76 L495,80.55 L495.5,80.69 L496,80.81 L496.5,80.78 L497,80.65 L497.5,80.82 L498,80.64 L498.5,80.74 L499,80.91 L499.5,80.85 L500,80.7 L500.5,80.82 L501,80.82 L501.5,80.61 L502,80.86 L502.5,80.82 L503,80.77 L503.5,80.83 L504,80.67 L504.5,80.95 L505,80.86 L505.5,80.85 L506,80.73 L506.5,80.68 L507,80.66 L507.5,80.85 L508,80.84 L508.5,80.95 L509,80.83 L509.5,80.69 L510,80.62 L510.5,80.83 L511,80.71 L511.5,80.64 L512,80.75 L512.5,80.88 L513,80.7 L513.5,80.93 L514,80.79 L514.5,80.65 L515,80.83 L515.5,80.61 L516,80.84 L516.5,80.62 L517,80.65 L517.5,80.65 L518,80.69 L518.5,80.92 L519,80.95 L519.5,80.78 L520,80.89 L520.5,80.91 L521,80.83 L521.5,80.92 L522,80.94" fill="none" stroke="#aaaaaa" stroke-width="1.3" stroke-linejoin="round"/>
<path d="M339.5,98.39 L340,98.27 L340.5,98.5 L341,98.49 L341.5,98.35 L342,98.41 L342.5,98.27 L343,98.27 L343.5,98.29 L344,98.41 L344.5,98.26 L345,98.49 L345.5,98.22 L346,98.25 L346.5,98.21 L347,98.41 L347.5,98.29 L348,98.32 L348.5,98.27 L349,98.36 L349.5,98.28 L350,98.21 L350.5,98.27 L351,98.23 L351.5,98.16 L352,98.36 L352.5,98.31 L353,98.29 L353.5,98.34 L354,98.18 L354.5,98.15 L355,98.14 L355.5,98.1 L356,98.15 L356.5,97.91 L357,97.99 L357.5,97.95 L358,97.82 L358.5,97.62 L359,97.69 L359.5,97.31 L360,97.23 L360.5,96.78 L361,96.26 L361.5,95.6 L362,94.53 L362.5,93.09 L363,91.56 L363.5,90.5 L364,90.89 L364.5,92.56 L365,94.12 L365.5,95.33 L366,96.26 L366.5,96.65 L367,97.21 L367.5,97.42 L368,97.62 L368.5,97.56 L369,97.7 L369.5,97.77 L370,97.94 L370.5,98.17 L371,98.19 L371.5,98.22 L372,98.04 L372.5,98.24 L373,98.28 L373.5,98.31 L374,98.32 L374.5,98.14 L375,98.17 L375.5,98.36 L376,98.35 L376.5,98.41 L377,98.28 L377.5,98.42 L378,98.2 L378.5,98.45 L379,98.44 L379.5,98.28 L380,98.2 L380.5,98.35 L381,98.4 L381.5,98.3 L382,98.21 L382.5,98.28 L383,98.45 L383.5,98.23 L384,98.49 L384.5,98.28 L385,98.27 L385.5,98.24 L386,98.51 L386.5,98.48 L387,98.31 L387.5,98.24 L388,98.41 L388.5,98.48 L389,98.22 L389.5,98.41 L390,98.48 L390.5,98.36 L391,98.39 L391.5,98.47 L392,98.3 L392.5,98.31 L393,98.42 L393.5,98.39 L394,98.39 L394.5,98.33 L395,98.51 L395.5,98.32 L396,98.43 L396.5,98.5 L397,98.35 L397.5,98.25 L398,98.3 L398.5,98.25 L399,98.28 L399.5,98.27 L400,98.34 L400.5,98.34 L401,98.37 L401.5,98.43 L402,98.44 L402.5,98.44 L403,98.34 L403.5,98.43 L404,98.4 L404.5,98.27 L405,98.4 L405.5,98.33 L406,98.44 L406.5,98.46 L407,98.31 L407.5,98.37 L408,98.37 L408.5,98.33 L409,98.25 L409.5,98.25 L410,98.53 L410.5,98.46 L411,98.37 L411.5,98.44 L412,98.32 L412.5,98.45 L413,98.52 L413.5,98.47 L414,98.38 L414.5,98.53 L415,98.51 L415.5,98.25 L416,98.36 L416.5,98.37 L417,98.32 L417.5,98.42 L418,98.28 L418.5,98.46 L419,98.49 L419.5,98.26 L420,98.45 L420.5,98.32 L421,98.43 L421.5,98.44 L422,98.53 L422.5,98.48 L423,98.34 L423.5,98.46 L424,98.28 L424.5,98.45 L425,98.36 L425.5,98.32 L426,98.31 L426.5,98.3 L427,98.48 L427.5,98.27 L428,98.31 L428.5,98.29 L429,98.28 L429.5,98.45 L430,98.41 L430.5,98.44 L431,98.51 L431.5,98.37 L432,98.25 L432.5,98.29 L433,98.39 L433.5,98.45 L434,98.51 L434.5,98.39 L435,98.3 L435.5,98.41 L436,98.51 L436.5,98.33 L437,98.51 L437.5,98.5 L438,98.41 L438.5,98.38 L439,98.27 L439.5,98.26 L440,98.24 L440.5,98.41 L441,98.44 L441.5,98.53 L442,98.41 L442.5,98.53 L443,98.35 L443.5,98.27 L444,98.25 L444.5,98.31 L445,98.39 L445.5,98.52 L446,98.31 L446.5,98.29 L447,98.44 L447.5,98.34 L448,98.39 L448.5,98.27 L449,98.48 L449.5,98.5 L450,98.44 L450.5,98.5 L451,98.32 L451.5,98.22 L452,98.31 L452.5,98.48 L453,98.35 L453.5,98.27 L454,98.25 L454.5,98.26 L455,98.34 L455.5,98.48 L456,98.47 L456.5,98.43 L457,98.42 L457.5,98.25 L458,98.43 L458.5,98.26 L459,98.34 L459.5,98.19 L460,98.45 L460.5,98.21 L461,98.35 L461.5,98.37 L462,98.35 L462.5,98.36 L463,98.26 L463.5,98.38 L464,98.42 L464.5,98.31 L465,98.41 L465.5,98.36 L466,98.12 L466.5,98.29 L467,98.1 L467.5,98.26 L468,98.15 L468.5,98.27 L469,98.01 L469.5,98.25 L470,97.95 L470.5,97.91 L471,97.85 L471.5,97.83 L472,98.02 L472.5,97.88 L473,97.79 L473.5,97.38 L474,97.22 L474.5,96.69 L475,95.68 L475.5,93.88 L476,91.53 L476.5,87.89 L477,83.52 L477.5,78.87 L478,75.29 L478.5,73.98 L479,75.32 L479.5,78.93 L480,83.59 L480.5,87.8 L481,91.49 L481.5,93.82 L482,95.62 L482.5,96.67 L483,97.01 L483.5,97.53 L484,97.6 L484.5,97.82 L485,97.91 L485.5,97.83 L486,98.13 L486.5,97.97 L487,97.97 L487.5,98.1 L488,98.01 L488.5,98.05 L489,98.27 L489.5,98.09 L490,98.24 L490.5,98.35 L491,98.24 L491.5,98.35 L492,98.37 L492.5,98.18 L493,98.16 L493.5,98.38 L494,98.41 L494.5,98.41 L495,98.38 L495.5,98.32 L496,98.46 L496.5,98.4 L497,98.41 L497.5,98.46 L498,98.2 L498.5,98.41 L499,98.37 L499.5,98.2 L500,98.27 L500.5,98.41 L501,98.36 L501.5,98.37 L502,98.29 L502.5,98.38 L503,98.47 L503.5,98.51 L504,98.38 L504.5,98.43 L505,98.24 L505.5,98.26 L506,98.39 L506.5,98.47 L507,98.26 L507.5,98.27 L508,98.37 L508.5,98.31 L509,98.27 L509.5,98.27 L510,98.35 L510.5,98.46 L511,98.28 L511.5,98.47 L512,98.25 L512.5,98.3 L513,98.43 L513.5,98.23 L514,98.33 L514.5,98.28 L515,98.3 L515.5,98.5 L516,98.28 L516.5,98.45 L517,98.51 L517.5,98.31 L518,98.49 L518.5,98.33 L519,98.47 L519.5,98.41 L520,98.34 L520.5,98.5 L521,98.44 L521.5,98.33 L522,98.41" fill="none" stroke="#000000" stroke-width="1.6" stroke-linejoin="round"/>
<path d="M339.5,116.38 L340,116.28 L340.5,116.5 L341,116.41 L341.5,116.39 L342,116.5 L342.5,116.24 L343,116.45 L343.5,116.28 L344,116.28 L344.5,116.3 L345,116.43 L345.5,116.48 L346,116.41 L346.5,116.29 L347,116.23 L347.5,116.28 L348,116.25 L348.5,116.33 L349,116.33 L349.5,116.21 L350,116.23 L350.5,116.43 L351,116.37 L351.5,116.18 L352,116.41 L352.5,116.27 L353,116.24 L353.5,116.36 L354,116.31 L354.5,116.23 L355,116.2 L355.5,116.23 L356,116.29 L356.5,116.23 L357,116.02 L357.5,115.97 L358,116.03 L358.5,115.97 L359,116.06 L359.5,115.93 L360,115.71 L360.5,115.68 L361,115.57 L361.5,115.32 L362,114.92 L362.5,114.47 L363,113.34 L363.5,111.83 L364,109 L364.5,105.55 L365,102.12 L365.5,100.35 L366,102.15 L366.5,105.56 L367,109.05 L367.5,111.61 L368,113.35 L368.5,114.42 L369,115.09 L369.5,115.22 L370,115.65 L370.5,115.83 L371,115.69 L371.5,115.95 L372,115.89 L372.5,115.91 L373,116.22 L373.5,116.04 L374,116.12 L374.5,116.23 L375,116.23 L375.5,116.33 L376,116.37 L376.5,116.23 L377,116.14 L377.5,116.37 L378,116.17 L378.5,116.25 L379,116.21 L379.5,116.4 L380,116.22 L380.5,116.41 L381,116.34 L381.5,116.36 L382,116.4 L382.5,116.29 L383,116.24 L383.5,116.41 L384,116.38 L384.5,116.32 L385,116.25 L385.5,116.25 L386,116.34 L386.5,116.41 L387,116.3 L387.5,116.21 L388,116.35 L388.5,116.28 L389,116.44 L389.5,116.43 L390,116.37 L390.5,116.24 L391,116.42 L391.5,116.36 L392,116.45 L392.5,116.46 L393,116.26 L393.5,116.31 L394,116.39 L394.5,116.26 L395,116.28 L395.5,116.44 L396,116.24 L396.5,116.3 L397,116.27 L397.5,116.5 L398,116.44 L398.5,116.46 L399,116.48 L399.5,116.3 L400,116.48 L400.5,116.34 L401,116.35 L401.5,116.26 L402,116.32 L402.5,116.35 L403,116.48 L403.5,116.38 L404,116.32 L404.5,116.42 L405,116.32 L405.5,116.48 L406,116.33 L406.5,116.3 L407,116.35 L407.5,116.41 L408,116.43 L408.5,116.32 L409,116.4 L409.5,116.43 L410,116.3 L410.5,116.33 L411,116.37 L411.5,116.47 L412,116.28 L412.5,116.32 L413,116.51 L413.5,116.39 L414,116.24 L414.5,116.4 L415,116.53 L415.5,116.39 L416,116.47 L416.5,116.48 L417,116.28 L417.5,116.5 L418,116.25 L418.5,116.26 L419,116.44 L419.5,116.36 L420,116.46 L420.5,116.36 L421,116.4 L421.5,116.4 L422,116.45 L422.5,116.49 L423,116.53 L423.5,116.36 L424,116.53 L424.5,116.25 L425,116.45 L425.5,116.42 L426,116.25 L426.5,116.32 L427,116.45 L427.5,116.25 L428,116.36 L428.5,116.44 L429,116.3 L429.5,116.4 L430,116.25 L430.5,116.27 L431,116.26 L431.5,116.39 L432,116.35 L432.5,116.47 L433,116.45 L433.5,116.46 L434,116.24 L434.5,116.38 L435,116.53 L435.5,116.39 L436,116.42 L436.5,116.47 L437,116.28 L437.5,116.53 L438,116.34 L438.5,116.39 L439,116.53 L439.5,116.25 L440,116.45 L440.5,116.27 L441,116.47 L441.5,116.32 L442,116.46 L442.5,116.38 L443,116.44 L443.5,116.5 L444,116.45 L444.5,116.46 L445,116.29 L445.5,116.46 L446,116.43 L446.5,116.28 L447,116.37 L447.5,116.37 L448,116.36 L448.5,116.43 L449,116.25 L449.5,116.48 L450,116.5 L450.5,116.24 L451,116.24 L451.5,116.36 L452,116.34 L452.5,116.35 L453,116.35 L453.5,116.3 L454,116.34 L454.5,116.32 L455,116.31 L455.5,116.45 L456,116.38 L456.5,116.49 L457,116.47 L457.5,116.46 L458,116.29 L458.5,116.41 L459,116.34 L459.5,116.23 L460,116.26 L460.5,116.2 L461,116.31 L461.5,116.37 L462,116.2 L462.5,116.37 L463,116.25 L463.5,116.2 L464,116.18 L464.5,116.35 L465,116.22 L465.5,116.29 L466,116.25 L466.5,116.34 L467,116.33 L467.5,116.36 L468,116.32 L468.5,116.23 L469,116.22 L469.5,116.15 L470,116.07 L470.5,116.1 L471,116.17 L471.5,116.08 L472,116.23 L472.5,116.18 L473,115.97 L473.5,116.05 L474,115.95 L474.5,115.78 L475,115.77 L475.5,115.48 L476,115.39 L476.5,115.17 L477,114.67 L477.5,113.72 L478,112.06 L478.5,109.24 L479,105.07 L479.5,99.7 L480,93.95 L480.5,89.23 L481,87.36 L481.5,89.16 L482,93.9 L482.5,99.68 L483,104.92 L483.5,109.02 L484,111.99 L484.5,113.61 L485,114.66 L485.5,115.04 L486,115.48 L486.5,115.6 L487,115.89 L487.5,115.72 L488,115.85 L488.5,116.05 L489,116.01 L489.5,116.1 L490,116.24 L490.5,116.15 L491,116.04 L491.5,116.08 L492,116.27 L492.5,116.08 L493,116.31 L493.5,116.16 L494,116.15 L494.5,116.38 L495,116.29 L495.5,116.19 L496,116.38 L496.5,116.37 L497,116.43 L497.5,116.43 L498,116.3 L498.5,116.43 L499,116.18 L499.5,116.36 L500,116.27 L500.5,116.31 L501,116.47 L501.5,116.36 L502,116.32 L502.5,116.36 L503,116.49 L503.5,116.22 L504,116.29 L504.5,116.23 L505,116.38 L505.5,116.45 L506,116.22 L506.5,116.38 L507,116.37 L507.5,116.5 L508,116.29 L508.5,116.47 L509,116.34 L509.5,116.47 L510,116.5 L510.5,116.33 L511,116.36 L511.5,116.27 L512,116.45 L512.5,116.5 L513,116.32 L513.5,116.43 L514,116.38 L514.5,116.41 L515,116.49 L515.5,116.29 L516,116.39 L516.5,116.45 L517,116.35 L517.5,116.5 L518,116.52 L518.5,116.53 L519,116.31 L519.5,116.51 L520,116.47 L520.5,116.26 L521,116.25 L521.5,116.24 L522,116.44" fill="none" stroke="#aaaaaa" stroke-width="1.3" stroke-linejoin="round"/>
<path d="M339.5,133.22 L340,133.37 L340.5,133.51 L341,133.21 L341.5,133.6 L342,133.23 L342.5,133.16 L343,133.34 L343.5,133.27 L344,133.49 L344.5,133.62 L345,133.62 L345.5,133.46 L346,133.33 L346.5,133.57 L347,133.34 L347.5,133.09 L348,133.13 L348.5,133.51 L349,132.98 L349.5,133.34 L350,133.17 L350.5,133.07 L351,133 L351.5,133.05 L352,133.13 L352.5,132.93 L353,133.42 L353.5,133.04 L354,133.08 L354.5,133.16 L355,133.01 L355.5,133 L356,133.1 L356.5,132.97 L357,133.01 L357.5,132.87 L358,132.7 L358.5,132.52 L359,132.11 L359.5,132.38 L360,132.12 L360.5,131.78 L361,131.51 L361.5,131.59 L362,131.3 L362.5,130.67 L363,130.68 L363.5,130.15 L364,129.84 L364.5,129.7 L365,128.56 L365.5,128.03 L366,126.3 L366.5,123.88 L367,120.53 L367.5,116.73 L368,111.91 L368.5,109.49 L369,110.85 L369.5,115.07 L370,119.36 L370.5,123.37 L371,126.42 L371.5,128.22 L372,129.42 L372.5,130.61 L373,131.04 L373.5,131.63 L374,131.75 L374.5,132.22 L375,132.08 L375.5,132.3 L376,132.47 L376.5,132.82 L377,132.84 L377.5,132.72 L378,132.73 L378.5,133.06 L379,133.13 L379.5,133.07 L380,133.25 L380.5,132.91 L381,133.08 L381.5,133.1 L382,133.02 L382.5,133.37 L383,133 L383.5,133.01 L384,133.11 L384.5,133.27 L385,133.23 L385.5,133.23 L386,133.33 L386.5,133.32 L387,133.25 L387.5,133.42 L388,133.33 L388.5,133.04 L389,133.37 L389.5,133.3 L390,133.61 L390.5,133.4 L391,133.13 L391.5,133.28 L392,133.38 L392.5,133.59 L393,133.23 L393.5,133.32 L394,133.57 L394.5,133.35 L395,133.45 L395.5,133.16 L396,133.49 L396.5,133.2 L397,133.53 L397.5,133.64 L398,133.61 L398.5,133.16 L399,133.28 L399.5,133.52 L400,133.58 L400.5,133.7 L401,133.17 L401.5,133.34 L402,133.32 L402.5,133.43 L403,133.65 L403.5,133.27 L404,133.47 L404.5,133.34 L405,133.25 L405.5,133.48 L406,133.55 L406.5,133.19 L407,133.21 L407.5,133.69 L408,133.65 L408.5,133.42 L409,133.35 L409.5,133.54 L410,133.25 L410.5,133.51 L411,133.67 L411.5,133.42 L412,133.73 L412.5,133.2 L413,133.5 L413.5,133.7 L414,133.73 L414.5,133.35 L415,133.66 L415.5,133.69 L416,133.23 L416.5,133.41 L417,133.46 L417.5,133.62 L418,133.23 L418.5,133.52 L419,133.27 L419.5,133.26 L420,133.31 L420.5,133.71 L421,133.49 L421.5,133.2 L422,133.41 L422.5,133.62 L423,133.73 L423.5,133.18 L424,133.18 L424.5,133.19 L425,133.42 L425.5,133.57 L426,133.42 L426.5,133.46 L427,133.64 L427.5,133.63 L428,133.19 L428.5,133.35 L429,133.44 L429.5,133.41 L430,133.12 L430.5,133.55 L431,133.39 L431.5,133.47 L432,133.29 L432.5,133.35 L433,132.9 L433.5,132.55 L434,132.49 L434.5,132.22 L435,131.13 L435.5,130.85 L436,131.23 L436.5,131.66 L437,132.46 L437.5,132.53 L438,132.75 L438.5,133.3 L439,132.95 L439.5,133 L440,133.01 L440.5,133.44 L441,133.32 L441.5,133.4 L442,133.53 L442.5,133.45 L443,133.32 L443.5,133.32 L444,133.56 L444.5,133.16 L445,133.41 L445.5,133.58 L446,133.36 L446.5,133.31 L447,133.35 L447.5,133.29 L448,133.33 L448.5,133.49 L449,133.67 L449.5,133.34 L450,133.53 L450.5,133.34 L451,133.65 L451.5,133.32 L452,133.5 L452.5,133.58 L453,133.28 L453.5,133.6 L454,133.46 L454.5,133.5 L455,133.37 L455.5,133.1 L456,133.64 L456.5,133.26 L457,133.47 L457.5,133.53 L458,133.26 L458.5,133.61 L459,133.58 L459.5,133.4 L460,133.42 L460.5,133.04 L461,133.44 L461.5,133.44 L462,133.46 L462.5,132.9 L463,132.99 L463.5,132.71 L464,133.02 L464.5,132.77 L465,132.49 L465.5,131.87 L466,131.89 L466.5,131.31 L467,130.6 L467.5,131.39 L468,131.34 L468.5,131.82 L469,132.19 L469.5,132.85 L470,132.59 L470.5,132.73 L471,133.17 L471.5,133.15 L472,133.04 L472.5,133.27 L473,133.13 L473.5,132.83 L474,132.96 L474.5,133.18 L475,133.1 L475.5,133 L476,133.09 L476.5,133.05 L477,133.04 L477.5,133.17 L478,132.76 L478.5,133.08 L479,132.86 L479.5,132.7 L480,132.93 L480.5,132.44 L481,132.61 L481.5,132.33 L482,132.4 L482.5,132.55 L483,132.19 L483.5,131.9 L484,131.53 L484.5,131.54 L485,131.53 L485.5,130.74 L486,130.84 L486.5,130.14 L487,129.96 L487.5,129.91 L488,130.24 L488.5,129.97 L489,130.16 L489.5,130.13 L490,130.79 L490.5,130.99 L491,131.05 L491.5,131.51 L492,131.53 L492.5,132.03 L493,132.37 L493.5,132.52 L494,132.68 L494.5,132.34 L495,132.87 L495.5,132.83 L496,133.03 L496.5,133.1 L497,132.96 L497.5,132.86 L498,132.98 L498.5,133.07 L499,133.04 L499.5,133.26 L500,133.34 L500.5,133.45 L501,132.9 L501.5,133.34 L502,133.01 L502.5,133.53 L503,133.15 L503.5,133.38 L504,133.22 L504.5,133.44 L505,133.11 L505.5,133.31 L506,133.61 L506.5,133.07 L507,133.3 L507.5,133.56 L508,133.65 L508.5,133.6 L509,133.22 L509.5,133.19 L510,133.1 L510.5,133.36 L511,133.12 L511.5,133.68 L512,133.14 L512.5,133.2 L513,133.23 L513.5,133.35 L514,133.35 L514.5,133.62 L515,133.37 L515.5,133.63 L516,133.51 L516.5,133.17 L517,133.58 L517.5,133.23 L518,133.44 L518.5,133.51 L519,133.16 L519.5,133.19 L520,133.28 L520.5,133.69 L521,133.47 L521.5,133.33 L522,133.53" fill="none" stroke="#000000" stroke-width="1.8" stroke-linejoin="round"/>
<path d="M339.5,149.09 L340,149.03 L340.5,149.45 L341,149.55 L341.5,149.29 L342,148.85 L342.5,148.98 L343,149.3 L343.5,149.01 L344,148.63 L344.5,148.52 L345,149.43 L345.5,148.33 L346,148.27 L346.5,148.85 L347,148.41 L347.5,148.46 L348,148.91 L348.5,149.05 L349,148.72 L349.5,149.22 L350,148.73 L350.5,148.39 L351,148.8 L351.5,148.13 L352,148.43 L352.5,148.51 L353,147.8 L353.5,148.08 L354,148.45 L354.5,147.99 L355,148.22 L355.5,147.24 L356,147.38 L356.5,146.77 L357,145.8 L357.5,145.8 L358,144.67 L358.5,142.73 L359,140.92 L359.5,138.91 L360,137.03 L360.5,135.47 L361,137.01 L361.5,139.59 L362,141.61 L362.5,143.73 L363,144.29 L363.5,145.12 L364,145.08 L364.5,145.59 L365,146.05 L365.5,145.58 L366,145.93 L366.5,145.75 L367,144.93 L367.5,145.34 L368,145.17 L368.5,144.35 L369,143.8 L369.5,143.63 L370,143.28 L370.5,143.47 L371,143.58 L371.5,143.3 L372,142.92 L372.5,143.68 L373,143.65 L373.5,144.06 L374,144.28 L374.5,144.92 L375,145.29 L375.5,145.11 L376,146.48 L376.5,145.71 L377,146.77 L377.5,146.62 L378,147.29 L378.5,147.18 L379,147.16 L379.5,147.64 L380,148.23 L380.5,148.15 L381,147.95 L381.5,148.15 L382,148.4 L382.5,148.21 L383,147.88 L383.5,147.74 L384,148.37 L384.5,148.3 L385,148.44 L385.5,148.89 L386,148.47 L386.5,148.35 L387,148.44 L387.5,149.2 L388,148.52 L388.5,149.22 L389,148.61 L389.5,148.32 L390,148.67 L390.5,148.68 L391,149.28 L391.5,149.04 L392,148.8 L392.5,149.28 L393,148.27 L393.5,149.22 L394,148.59 L394.5,149.23 L395,149.11 L395.5,149.21 L396,149.23 L396.5,149.13 L397,149.24 L397.5,149.32 L398,149.18 L398.5,148.21 L399,149.07 L399.5,149.03 L400,148.95 L400.5,148.53 L401,148.54 L401.5,147.67 L402,147.67 L402.5,147.47 L403,147.33 L403.5,147.45 L404,147.59 L404.5,148.52 L405,148.09 L405.5,148.38 L406,148.75 L406.5,148.87 L407,149.31 L407.5,149.24 L408,149.18 L408.5,148.45 L409,149.19 L409.5,149.1 L410,149.49 L410.5,148.49 L411,149.44 L411.5,149.51 L412,148.44 L412.5,148.71 L413,148.79 L413.5,148.46 L414,148.46 L414.5,149.16 L415,149.02 L415.5,149.44 L416,148.99 L416.5,149.15 L417,148.89 L417.5,149.33 L418,148.57 L418.5,148.93 L419,148.98 L419.5,148.95 L420,148.8 L420.5,149.34 L421,149.41 L421.5,148.69 L422,148.97 L422.5,148.84 L423,149.62 L423.5,149.03 L424,148.59 L424.5,149.17 L425,149.27 L425.5,148.87 L426,148.57 L426.5,149.63 L427,149.58 L427.5,149.13 L428,149.07 L428.5,148.38 L429,148.78 L429.5,149.09 L430,149.43 L430.5,149.37 L431,148.69 L431.5,148.31 L432,148.85 L432.5,148.07 L433,147.53 L433.5,147.29 L434,146.92 L434.5,146.92 L435,147.82 L435.5,147.93 L436,148.47 L436.5,148.55 L437,148.16 L437.5,148.7 L438,148.66 L438.5,148.97 L439,148.36 L439.5,149.14 L440,148.74 L440.5,148.86 L441,148.82 L441.5,149.48 L442,148.87 L442.5,149.66 L443,149.2 L443.5,149.31 L444,148.89 L444.5,149.48 L445,149.35 L445.5,148.97 L446,149.53 L446.5,148.61 L447,149.21 L447.5,149.48 L448,149.47 L448.5,148.65 L449,149.55 L449.5,149.5 L450,148.57 L450.5,148.68 L451,149.26 L451.5,149.56 L452,149.33 L452.5,148.93 L453,149.38 L453.5,149.02 L454,149.23 L454.5,148.79 L455,149.63 L455.5,149.66 L456,148.59 L456.5,148.93 L457,148.63 L457.5,149.27 L458,148.96 L458.5,148.79 L459,149.22 L459.5,149.03 L460,149.16 L460.5,148.9 L461,149.01 L461.5,149.19 L462,149.13 L462.5,149.07 L463,149.39 L463.5,149.06 L464,149.38 L464.5,149.37 L465,148.88 L465.5,148.72 L466,149.25 L466.5,148.95 L467,149.21 L467.5,149.24 L468,148.95 L468.5,148.86 L469,149.45 L469.5,149.62 L470,149.13 L470.5,148.87 L471,149.43 L471.5,148.49 L472,149.45 L472.5,149.44 L473,149.43 L473.5,148.37 L474,149.51 L474.5,148.89 L475,148.89 L475.5,148.63 L476,148.33 L476.5,149.25 L477,148.84 L477.5,149.19 L478,148.7 L478.5,149.13 L479,149.2 L479.5,148.19 L480,148.99 L480.5,148.78 L481,149.04 L481.5,148.21 L482,148.42 L482.5,148.92 L483,148.14 L483.5,148.5 L484,148.31 L484.5,147.82 L485,148.23 L485.5,147.67 L486,148.22 L486.5,147.5 L487,147.68 L487.5,147.37 L488,147.24 L488.5,146.68 L489,145.35 L489.5,144.86 L490,143.22 L490.5,141.29 L491,139.86 L491.5,137.32 L492,135.41 L492.5,132.73 L493,131.47 L493.5,129.28 L494,128.75 L494.5,130.18 L495,131.13 L495.5,132.89 L496,135.31 L496.5,137.55 L497,139.41 L497.5,142.36 L498,143.33 L498.5,144.37 L499,145.49 L499.5,146.25 L500,146.62 L500.5,147.26 L501,147.43 L501.5,147.1 L502,147.39 L502.5,147.99 L503,147.73 L503.5,148.28 L504,148.63 L504.5,148.01 L505,148.61 L505.5,148.35 L506,147.98 L506.5,148.81 L507,149.11 L507.5,149.17 L508,149.29 L508.5,149.02 L509,149 L509.5,149.4 L510,149.16 L510.5,148.6 L511,149.07 L511.5,148.71 L512,149.3 L512.5,148.51 L513,148.78 L513.5,148.44 L514,149.33 L514.5,148.87 L515,149.49 L515.5,148.7 L516,148.45 L516.5,149.09 L517,148.54 L517.5,148.78 L518,149.03 L518.5,149.38 L519,149.17 L519.5,149.08 L520,149.35 L520.5,149.33 L521,149.38 L521.5,149.39 L522,148.54" fill="none" stroke="#aaaaaa" stroke-width="2.0" stroke-linejoin="round"/>
<path d="M339.5,168.76 L340,169.2 L340.5,168.87 L341,168.8 L341.5,169.27 L342,169.11 L342.5,169.1 L343,169.07 L343.5,168.78 L344,169.31 L344.5,168.9 L345,169.29 L345.5,168.9 L346,168.9 L346.5,169.23 L347,169.04 L347.5,169.26 L348,168.98 L348.5,169.14 L349,168.7 L349.5,168.96 L350,168.83 L350.5,169.07 L351,168.93 L351.5,169.17 L352,168.84 L352.5,168.94 L353,168.85 L353.5,168.98 L354,168.89 L354.5,168.66 L355,168.78 L355.5,168.88 L356,168.65 L356.5,169.16 L357,168.67 L357.5,168.62 L358,168.9 L358.5,168.78 L359,168.85 L359.5,168.71 L360,168.82 L360.5,168.84 L361,168.88 L361.5,168.64 L362,168.56 L362.5,168.49 L363,168.43 L363.5,168.52 L364,168.58 L364.5,168.57 L365,168.46 L365.5,168.32 L366,168.62 L366.5,168.19 L367,168.21 L367.5,168.32 L368,168.11 L368.5,167.72 L369,167.53 L369.5,167.26 L370,166.97 L370.5,166.77 L371,166.48 L371.5,165.86 L372,165.05 L372.5,164.26 L373,163.07 L373.5,161.2 L374,158.63 L374.5,155.51 L375,151.15 L375.5,146.56 L376,144.6 L376.5,146.33 L377,151.1 L377.5,155.24 L378,158.54 L378.5,161.26 L379,163.2 L379.5,164.68 L380,165.03 L380.5,166.24 L381,166.46 L381.5,166.86 L382,167.15 L382.5,167.35 L383,167.73 L383.5,168.1 L384,167.9 L384.5,168.42 L385,168.01 L385.5,168.29 L386,168.35 L386.5,168.17 L387,168.4 L387.5,168.79 L388,168.49 L388.5,168.37 L389,168.44 L389.5,168.57 L390,168.55 L390.5,168.79 L391,168.96 L391.5,168.47 L392,168.94 L392.5,168.57 L393,169.03 L393.5,168.53 L394,168.93 L394.5,169.07 L395,168.54 L395.5,169 L396,169.02 L396.5,168.75 L397,168.86 L397.5,168.51 L398,168.53 L398.5,168.67 L399,168.6 L399.5,168.46 L400,168.59 L400.5,167.88 L401,167.75 L401.5,167.36 L402,166.33 L402.5,164.93 L403,164.51 L403.5,165.22 L404,166.36 L404.5,167.49 L405,167.55 L405.5,167.87 L406,168.48 L406.5,168.68 L407,168.46 L407.5,168.5 L408,168.77 L408.5,169.09 L409,168.72 L409.5,168.8 L410,169.09 L410.5,169.01 L411,169.01 L411.5,168.67 L412,169.16 L412.5,168.76 L413,168.7 L413.5,168.96 L414,168.83 L414.5,168.69 L415,168.68 L415.5,169.23 L416,169.27 L416.5,168.96 L417,168.91 L417.5,168.81 L418,169.27 L418.5,168.8 L419,168.73 L419.5,169.03 L420,169.04 L420.5,169.02 L421,168.87 L421.5,169.05 L422,169.27 L422.5,168.99 L423,169.23 L423.5,168.74 L424,168.97 L424.5,168.86 L425,169.2 L425.5,168.83 L426,169 L426.5,168.7 L427,168.77 L427.5,169 L428,169.05 L428.5,168.81 L429,168.9 L429.5,169.14 L430,168.9 L430.5,168.88 L431,168.81 L431.5,168.83 L432,168.7 L432.5,168.39 L433,168.07 L433.5,168.13 L434,167.62 L434.5,167.47 L435,166.79 L435.5,166.09 L436,166.51 L436.5,166.79 L437,167.76 L437.5,167.81 L438,168.27 L438.5,168.6 L439,168.41 L439.5,168.84 L440,169 L440.5,168.53 L441,168.94 L441.5,169.03 L442,168.95 L442.5,169.05 L443,168.91 L443.5,168.78 L444,168.8 L444.5,169.25 L445,169.09 L445.5,168.83 L446,168.73 L446.5,168.97 L447,168.88 L447.5,168.88 L448,168.69 L448.5,168.7 L449,169.16 L449.5,168.88 L450,169.06 L450.5,169.19 L451,169.03 L451.5,168.86 L452,168.93 L452.5,168.9 L453,169.13 L453.5,169.11 L454,168.91 L454.5,168.94 L455,169.12 L455.5,169.11 L456,168.94 L456.5,168.85 L457,168.93 L457.5,169.21 L458,169.02 L458.5,168.77 L459,168.84 L459.5,168.91 L460,169.13 L460.5,168.99 L461,169.25 L461.5,169.18 L462,169.09 L462.5,168.84 L463,168.97 L463.5,168.85 L464,168.67 L464.5,168.88 L465,169.11 L465.5,168.98 L466,168.62 L466.5,169.16 L467,168.68 L467.5,168.75 L468,168.75 L468.5,169.07 L469,169.01 L469.5,168.69 L470,168.58 L470.5,168.62 L471,168.57 L471.5,168.81 L472,168.99 L472.5,168.95 L473,168.88 L473.5,169.04 L474,168.91 L474.5,168.84 L475,168.71 L475.5,168.68 L476,168.48 L476.5,168.63 L477,168.37 L477.5,168.62 L478,168.87 L478.5,168.33 L479,168.38 L479.5,168.4 L480,168.41 L480.5,168.46 L481,168.49 L481.5,168.5 L482,168.46 L482.5,167.87 L483,168.17 L483.5,168.03 L484,168.09 L484.5,167.48 L485,167.39 L485.5,167.51 L486,166.74 L486.5,166.98 L487,166.16 L487.5,166.14 L488,165.33 L488.5,165.1 L489,164.28 L489.5,163.85 L490,164.13 L490.5,163.72 L491,164.31 L491.5,164.37 L492,164.33 L492.5,164.94 L493,165.09 L493.5,164.69 L494,165.08 L494.5,164.53 L495,164.36 L495.5,164.2 L496,164.17 L496.5,163.49 L497,163.15 L497.5,162.44 L498,161.9 L498.5,161.42 L499,160.7 L499.5,160.8 L500,160.68 L500.5,161.05 L501,161.76 L501.5,162.42 L502,162.84 L502.5,163.38 L503,164.32 L503.5,164.73 L504,165.32 L504.5,165.87 L505,166.18 L505.5,166.59 L506,166.91 L506.5,166.72 L507,166.91 L507.5,167.07 L508,167.53 L508.5,167.54 L509,167.91 L509.5,168 L510,168.04 L510.5,168.22 L511,168.36 L511.5,168.15 L512,168.21 L512.5,168.36 L513,168.42 L513.5,168.7 L514,168.36 L514.5,168.46 L515,168.47 L515.5,168.74 L516,168.76 L516.5,168.54 L517,168.63 L517.5,168.64 L518,168.76 L518.5,168.74 L519,168.79 L519.5,168.49 L520,168.73 L520.5,168.6 L521,168.58 L521.5,168.66 L522,168.71" fill="none" stroke="#000000" stroke-width="1.8" stroke-linejoin="round"/>
<path d="M339.5,186.93 L340,186.82 L340.5,186.84 L341,186.94 L341.5,186.97 L342,186.88 L342.5,186.92 L343,186.93 L343.5,186.91 L344,186.93 L344.5,186.95 L345,186.82 L345.5,186.88 L346,186.95 L346.5,186.92 L347,186.78 L347.5,186.93 L348,186.79 L348.5,186.76 L349,186.91 L349.5,186.83 L350,186.9 L350.5,186.87 L351,186.88 L351.5,186.7 L352,186.81 L352.5,186.81 L353,186.83 L353.5,186.68 L354,186.75 L354.5,186.71 L355,186.75 L355.5,186.72 L356,186.65 L356.5,186.74 L357,186.67 L357.5,186.61 L358,186.63 L358.5,186.6 L359,186.65 L359.5,186.6 L360,186.44 L360.5,186.56 L361,186.48 L361.5,186.29 L362,186.37 L362.5,186.25 L363,186.23 L363.5,186.13 L364,186.17 L364.5,186.13 L365,185.99 L365.5,185.78 L366,185.69 L366.5,185.6 L367,185.57 L367.5,185.34 L368,185.4 L368.5,185.08 L369,185.05 L369.5,184.83 L370,184.7 L370.5,184.6 L371,184.46 L371.5,184.39 L372,184.25 L372.5,184.15 L373,184.03 L373.5,183.94 L374,183.68 L374.5,183.43 L375,182.96 L375.5,182.29 L376,181.18 L376.5,178.91 L377,175.39 L377.5,170.5 L378,164.55 L378.5,160.03 L379,160.67 L379.5,165.91 L380,171.93 L380.5,176.84 L381,180.1 L381.5,182.17 L382,183.42 L382.5,184.18 L383,184.78 L383.5,185.1 L384,185.43 L384.5,185.55 L385,185.77 L385.5,185.97 L386,185.98 L386.5,186.08 L387,186.26 L387.5,186.36 L388,186.25 L388.5,186.42 L389,186.54 L389.5,186.5 L390,186.62 L390.5,186.51 L391,186.66 L391.5,186.55 L392,186.72 L392.5,186.58 L393,186.72 L393.5,186.66 L394,186.64 L394.5,186.79 L395,186.73 L395.5,186.71 L396,186.67 L396.5,186.73 L397,186.87 L397.5,186.87 L398,186.7 L398.5,186.72 L399,186.81 L399.5,186.79 L400,186.92 L400.5,186.76 L401,186.86 L401.5,186.92 L402,186.91 L402.5,186.8 L403,186.85 L403.5,186.78 L404,186.79 L404.5,186.8 L405,186.92 L405.5,186.95 L406,186.84 L406.5,186.88 L407,186.86 L407.5,186.92 L408,186.88 L408.5,186.93 L409,187.01 L409.5,186.9 L410,186.88 L410.5,186.84 L411,186.86 L411.5,186.83 L412,186.98 L412.5,186.97 L413,186.92 L413.5,186.9 L414,186.99 L414.5,186.84 L415,186.9 L415.5,187.02 L416,186.98 L416.5,186.93 L417,186.9 L417.5,186.88 L418,186.89 L418.5,186.9 L419,187.02 L419.5,186.86 L420,186.98 L420.5,186.88 L421,186.88 L421.5,186.89 L422,186.98 L422.5,187.01 L423,186.98 L423.5,186.96 L424,186.93 L424.5,187 L425,186.91 L425.5,186.94 L426,187.05 L426.5,186.88 L427,186.99 L427.5,186.98 L428,186.93 L428.5,187.01 L429,186.97 L429.5,187.03 L430,186.91 L430.5,186.98 L431,186.87 L431.5,187.02 L432,187.02 L432.5,187.03 L433,187.03 L433.5,187.03 L434,187.03 L434.5,187.07 L435,186.94 L435.5,187.06 L436,187.04 L436.5,186.95 L437,186.88 L437.5,186.92 L438,186.89 L438.5,186.98 L439,187.03 L439.5,186.91 L440,186.89 L440.5,186.97 L441,186.99 L441.5,186.9 L442,186.88 L442.5,186.9 L443,186.98 L443.5,186.94 L444,187.05 L444.5,187.04 L445,186.9 L445.5,186.97 L446,186.99 L446.5,187.01 L447,187.07 L447.5,187 L448,186.91 L448.5,186.9 L449,186.94 L449.5,187.05 L450,187.07 L450.5,187.03 L451,186.95 L451.5,187.07 L452,186.94 L452.5,187.04 L453,186.92 L453.5,186.93 L454,187.05 L454.5,186.96 L455,186.91 L455.5,186.89 L456,187.01 L456.5,186.94 L457,186.98 L457.5,187.07 L458,186.95 L458.5,186.92 L459,186.9 L459.5,187.04 L460,186.93 L460.5,186.99 L461,186.91 L461.5,186.99 L462,187.06 L462.5,186.98 L463,187.05 L463.5,187.05 L464,186.93 L464.5,187.02 L465,186.98 L465.5,187.02 L466,187.06 L466.5,186.98 L467,187.02 L467.5,186.95 L468,187.02 L468.5,186.92 L469,187.08 L469.5,186.93 L470,186.95 L470.5,186.99 L471,186.92 L471.5,186.97 L472,186.92 L472.5,186.98 L473,187.03 L473.5,187.08 L474,186.99 L474.5,187.07 L475,186.97 L475.5,186.92 L476,187.08 L476.5,186.95 L477,186.9 L477.5,187 L478,186.94 L478.5,187.04 L479,186.95 L479.5,187.05 L480,187.01 L480.5,186.94 L481,187.08 L481.5,186.93 L482,186.99 L482.5,187.03 L483,187.06 L483.5,187.08 L484,187.06 L484.5,186.99 L485,186.96 L485.5,186.9 L486,186.97 L486.5,186.99 L487,186.98 L487.5,187.02 L488,186.96 L488.5,187 L489,186.97 L489.5,187.09 L490,187.04 L490.5,186.99 L491,186.97 L491.5,187.01 L492,186.9 L492.5,186.94 L493,187.09 L493.5,187.09 L494,186.93 L494.5,186.99 L495,187.07 L495.5,186.99 L496,186.99 L496.5,186.97 L497,186.97 L497.5,187.02 L498,186.96 L498.5,186.91 L499,186.98 L499.5,186.91 L500,186.93 L500.5,186.99 L501,187.05 L501.5,187.07 L502,187.05 L502.5,186.94 L503,186.97 L503.5,187.04 L504,186.98 L504.5,186.93 L505,186.92 L505.5,186.99 L506,187.01 L506.5,187.07 L507,186.92 L507.5,186.96 L508,186.96 L508.5,186.9 L509,186.98 L509.5,187.02 L510,187.05 L510.5,186.96 L511,187.07 L511.5,187.09 L512,187.02 L512.5,187.03 L513,187.01 L513.5,186.97 L514,187.01 L514.5,186.9 L515,186.91 L515.5,186.92 L516,187.08 L516.5,186.94 L517,186.96 L517.5,186.93 L518,187.05 L518.5,187.01 L519,187.05 L519.5,186.99 L520,186.96 L520.5,187.06 L521,186.98 L521.5,187.04 L522,187.02" fill="none" stroke="#aaaaaa" stroke-width="1.3" stroke-linejoin="round"/>
<path d="M339.5,204.04 L340,204.09 L340.5,203.94 L341,204.22 L341.5,204.29 L342,204.15 L342.5,204.17 L343,204.29 L343.5,204.08 L344,204.16 L344.5,204.31 L345,204.25 L345.5,204.48 L346,204.49 L346.5,204.4 L347,204.33 L347.5,204.13 L348,204.45 L348.5,204.43 L349,204.14 L349.5,204.06 L350,204.23 L350.5,204.15 L351,204.16 L351.5,204.17 L352,204.18 L352.5,203.93 L353,204.27 L353.5,204.56 L354,203.97 L354.5,204.4 L355,204.38 L355.5,204.57 L356,204.08 L356.5,204.33 L357,203.95 L357.5,203.99 L358,204.32 L358.5,204.02 L359,203.97 L359.5,204.45 L360,204.3 L360.5,204.34 L361,204.22 L361.5,204.48 L362,204.29 L362.5,204.15 L363,204.55 L363.5,204.23 L364,204.01 L364.5,204.05 L365,204.44 L365.5,204.35 L366,204.16 L366.5,204.24 L367,204.01 L367.5,203.93 L368,203.81 L368.5,204.23 L369,204.08 L369.5,204.31 L370,204.16 L370.5,203.95 L371,204.13 L371.5,203.81 L372,203.86 L372.5,204.04 L373,203.84 L373.5,203.43 L374,203.39 L374.5,203.78 L375,203.53 L375.5,202.97 L376,203.36 L376.5,202.69 L377,202.38 L377.5,201.59 L378,201.26 L378.5,199.75 L379,197.63 L379.5,194.92 L380,188.86 L380.5,181.59 L381,178.94 L381.5,184.67 L382,191.2 L382.5,196.03 L383,198.95 L383.5,200.62 L384,201.3 L384.5,202.03 L385,202.6 L385.5,203.16 L386,203.31 L386.5,203.04 L387,203.66 L387.5,203.41 L388,203.43 L388.5,203.63 L389,203.67 L389.5,203.77 L390,203.58 L390.5,204.22 L391,204.21 L391.5,203.75 L392,203.92 L392.5,204.11 L393,203.93 L393.5,204.45 L394,204.18 L394.5,203.96 L395,203.88 L395.5,204.21 L396,204.21 L396.5,204.37 L397,204.14 L397.5,204.25 L398,204.53 L398.5,203.94 L399,204 L399.5,204.29 L400,203.95 L400.5,204.37 L401,203.94 L401.5,204.1 L402,204.43 L402.5,204.33 L403,204.58 L403.5,204.29 L404,204.06 L404.5,203.99 L405,204.08 L405.5,204.24 L406,204.42 L406.5,204.12 L407,203.95 L407.5,203.93 L408,204.35 L408.5,204.55 L409,204.48 L409.5,204.56 L410,204.13 L410.5,204.31 L411,204.07 L411.5,204.53 L412,204.06 L412.5,204.05 L413,204.56 L413.5,204.59 L414,204.18 L414.5,204.56 L415,204.37 L415.5,204.03 L416,204.16 L416.5,204.23 L417,204.25 L417.5,204.43 L418,204.13 L418.5,204.1 L419,203.93 L419.5,204.17 L420,203.94 L420.5,204.62 L421,204.24 L421.5,204.28 L422,204.35 L422.5,204.54 L423,204.34 L423.5,204.14 L424,204.24 L424.5,204.06 L425,204.35 L425.5,204.15 L426,204.31 L426.5,204.05 L427,204.14 L427.5,204.34 L428,204.26 L428.5,204.06 L429,204.4 L429.5,204.59 L430,204.33 L430.5,204.14 L431,204.34 L431.5,204.12 L432,204.22 L432.5,204.31 L433,204.6 L433.5,204.25 L434,204.22 L434.5,204.02 L435,204.02 L435.5,204.42 L436,204.37 L436.5,204.12 L437,204.2 L437.5,204.44 L438,203.98 L438.5,204.01 L439,204.35 L439.5,204.28 L440,204.17 L440.5,203.98 L441,204.54 L441.5,203.98 L442,204.46 L442.5,204.06 L443,204.01 L443.5,203.97 L444,204.58 L444.5,204.53 L445,204.27 L445.5,204.12 L446,204.18 L446.5,204.06 L447,204.14 L447.5,204.11 L448,203.98 L448.5,204.37 L449,204.33 L449.5,204.07 L450,204.24 L450.5,204.29 L451,204.51 L451.5,204.46 L452,204.62 L452.5,203.97 L453,204.02 L453.5,204.27 L454,204.37 L454.5,204.56 L455,204.3 L455.5,203.98 L456,204.13 L456.5,204.36 L457,203.98 L457.5,203.97 L458,204.19 L458.5,203.79 L459,204.03 L459.5,203.59 L460,203.85 L460.5,203.14 L461,203.07 L461.5,203 L462,203.76 L462.5,203.72 L463,203.96 L463.5,204.13 L464,203.81 L464.5,203.86 L465,203.88 L465.5,204.3 L466,203.95 L466.5,204.25 L467,204.37 L467.5,204.46 L468,204.59 L468.5,204.47 L469,204.28 L469.5,203.99 L470,204.36 L470.5,204.48 L471,204.49 L471.5,204 L472,204.4 L472.5,204.38 L473,204.51 L473.5,204.44 L474,204.5 L474.5,204.07 L475,204.5 L475.5,204.13 L476,204.08 L476.5,204.1 L477,203.94 L477.5,204 L478,204.31 L478.5,204.11 L479,204.2 L479.5,204.02 L480,204 L480.5,204.49 L481,204.36 L481.5,204.05 L482,204.13 L482.5,204.46 L483,204.34 L483.5,204.02 L484,204.13 L484.5,204.12 L485,204.09 L485.5,204.56 L486,204.06 L486.5,204.23 L487,204.44 L487.5,204.5 L488,204.41 L488.5,204.55 L489,204.01 L489.5,204.17 L490,204.2 L490.5,204.56 L491,204.3 L491.5,204.35 L492,204.11 L492.5,204.01 L493,204.35 L493.5,204.27 L494,204.52 L494.5,204.36 L495,204.19 L495.5,204.6 L496,204.26 L496.5,204.55 L497,204.59 L497.5,204.09 L498,204.13 L498.5,203.98 L499,204.12 L499.5,204.61 L500,203.99 L500.5,204.11 L501,204.33 L501.5,204.34 L502,204.22 L502.5,204.43 L503,204.04 L503.5,204.41 L504,204.06 L504.5,204.52 L505,203.98 L505.5,204.32 L506,204.28 L506.5,204.34 L507,204.12 L507.5,204.4 L508,204.16 L508.5,204 L509,204.61 L509.5,204.01 L510,204.12 L510.5,204.03 L511,204.25 L511.5,204.27 L512,204.32 L512.5,204.09 L513,204.38 L513.5,204.43 L514,204.08 L514.5,204.55 L515,204.05 L515.5,204.02 L516,204.1 L516.5,204.19 L517,204.44 L517.5,204.33 L518,204.48 L518.5,204.04 L519,204.05 L519.5,204.22 L520,204.6 L520.5,204.53 L521,203.95 L521.5,204.17 L522,204.56" fill="none" stroke="#000000" stroke-width="1.8" stroke-linejoin="round"/>
<line x1="353.9" y1="22" x2="353.9" y2="204.4" stroke="#f0c650" stroke-width="1.1" stroke-dasharray="3.2 1.7"/>
<line x1="470.5" y1="42.4" x2="470.5" y2="204.4" stroke="#f0c650" stroke-width="1.1" stroke-dasharray="3.2 1.7"/>
<line x1="380.2" y1="44.3" x2="380.2" y2="204.4" stroke="#d63c7c" stroke-width="1.1" stroke-dasharray="1 1"/>
<line x1="502.7" y1="44.3" x2="502.7" y2="204.4" stroke="#d63c7c" stroke-width="1.1" stroke-dasharray="1 1"/>
<path d="M319.6,551.1 V554.1 H522.2" fill="none" stroke="#333" stroke-width="1.1"/>
<line x1="402.4" y1="554.1" x2="402.4" y2="551.1" stroke="#333" stroke-width="1"/>
<line x1="481.6" y1="554.1" x2="481.6" y2="551.1" stroke="#333" stroke-width="1"/>
<text x="319.7" y="569.5" text-anchor="middle" font-size="12">1.2</text>
<text x="401.3" y="569.5" text-anchor="middle" font-size="12">1.4</text>
<text x="481.8" y="569.5" text-anchor="middle" font-size="12">1.6</text>
<text x="429.8" y="584" text-anchor="middle" font-size="12">d spacing (Å)</text>
<path d="M339.5,386.19 L340,386.22 L340.5,386.15 L341,386.1 L341.5,386.32 L342,385.93 L342.5,386.27 L343,386.01 L343.5,386.21 L344,386.17 L344.5,385.97 L345,386.2 L345.5,385.97 L346,386.23 L346.5,385.95 L347,386.19 L347.5,385.83 L348,386.01 L348.5,386.05 L349,385.63 L349.5,385.58 L350,385.48 L350.5,385.32 L351,385.22 L351.5,384.48 L352,383.33 L352.5,381.87 L353,379.62 L353.5,377.42 L354,374.92 L354.5,374.09 L355,375.22 L355.5,377.19 L356,379.55 L356.5,381.87 L357,383.48 L357.5,384.45 L358,385.21 L358.5,385.46 L359,385.79 L359.5,385.86 L360,385.91 L360.5,385.7 L361,385.77 L361.5,385.97 L362,386.01 L362.5,385.93 L363,386.1 L363.5,386.02 L364,386 L364.5,386.07 L365,386.26 L365.5,386.21 L366,386.03 L366.5,386.17 L367,386.12 L367.5,386.04 L368,386 L368.5,386.28 L369,386.19 L369.5,386.31 L370,385.95 L370.5,385.97 L371,386.08 L371.5,386.35 L372,386.08 L372.5,386.14 L373,386.13 L373.5,386.21 L374,386.01 L374.5,386.25 L375,386.3 L375.5,386.06 L376,386.06 L376.5,386.05 L377,386.01 L377.5,386.1 L378,386.17 L378.5,386.13 L379,386.3 L379.5,386.17 L380,386.26 L380.5,386.23 L381,386.16 L381.5,386.08 L382,386.18 L382.5,386.06 L383,386.28 L383.5,386.04 L384,386.16 L384.5,386.05 L385,386.07 L385.5,386.01 L386,386.05 L386.5,386.15 L387,386.17 L387.5,386.14 L388,386.19 L388.5,386.03 L389,386.31 L389.5,386.11 L390,386.21 L390.5,385.99 L391,386.29 L391.5,386.02 L392,386.3 L392.5,386.1 L393,386.31 L393.5,386.18 L394,386.19 L394.5,386.33 L395,386.2 L395.5,386.02 L396,386.13 L396.5,386.16 L397,386.02 L397.5,386.04 L398,386 L398.5,386.01 L399,386.15 L399.5,386.36 L400,386.34 L400.5,386.32 L401,386.01 L401.5,386.07 L402,386.1 L402.5,386.21 L403,386.26 L403.5,386.21 L404,386.09 L404.5,386.01 L405,386.28 L405.5,386.32 L406,386.16 L406.5,386.24 L407,386.16 L407.5,386.01 L408,386.27 L408.5,386.13 L409,386.05 L409.5,386.14 L410,386.13 L410.5,386.16 L411,386.2 L411.5,386.09 L412,386.38 L412.5,386.04 L413,386.16 L413.5,386.17 L414,386.07 L414.5,386.28 L415,386.24 L415.5,386.25 L416,386.04 L416.5,386.17 L417,386.13 L417.5,386.19 L418,386.29 L418.5,386.19 L419,386.07 L419.5,386.2 L420,386.05 L420.5,386.01 L421,386.01 L421.5,386.33 L422,386.03 L422.5,386.31 L423,385.99 L423.5,386.05 L424,385.99 L424.5,386.13 L425,386.01 L425.5,386.05 L426,386.13 L426.5,386.37 L427,386.03 L427.5,386.34 L428,386.25 L428.5,386.23 L429,386.19 L429.5,386.17 L430,386.34 L430.5,386.23 L431,386.04 L431.5,386.3 L432,386.25 L432.5,386.34 L433,386.36 L433.5,386.37 L434,386.3 L434.5,386.16 L435,386.07 L435.5,386.03 L436,386.22 L436.5,386.16 L437,386.23 L437.5,386.14 L438,386.16 L438.5,386.33 L439,386.1 L439.5,386.24 L440,385.97 L440.5,386.08 L441,386.12 L441.5,386.3 L442,386.13 L442.5,386.28 L443,386.15 L443.5,386.11 L444,386.26 L444.5,386.14 L445,386.04 L445.5,386.08 L446,386.15 L446.5,386.2 L447,386 L447.5,386.15 L448,385.98 L448.5,386.07 L449,386.07 L449.5,386.17 L450,386.07 L450.5,386.04 L451,385.95 L451.5,386.25 L452,386.18 L452.5,386.26 L453,386.25 L453.5,385.98 L454,385.98 L454.5,386.2 L455,386.04 L455.5,386.11 L456,386.1 L456.5,386.01 L457,385.94 L457.5,386.03 L458,386.06 L458.5,386.05 L459,385.86 L459.5,385.84 L460,385.93 L460.5,386.01 L461,386 L461.5,385.75 L462,385.79 L462.5,385.89 L463,385.9 L463.5,385.51 L464,385.57 L464.5,385.69 L465,385.35 L465.5,385.11 L466,384.94 L466.5,384.43 L467,383.36 L467.5,381.7 L468,379.31 L468.5,375.75 L469,371.07 L469.5,366.48 L470,362.83 L470.5,361.82 L471,363.89 L471.5,368.16 L472,373.02 L472.5,377.23 L473,380.65 L473.5,382.78 L474,383.8 L474.5,384.78 L475,385.03 L475.5,385.28 L476,385.32 L476.5,385.66 L477,385.64 L477.5,385.79 L478,385.59 L478.5,385.88 L479,386.03 L479.5,385.91 L480,385.92 L480.5,385.98 L481,386.15 L481.5,385.93 L482,386.07 L482.5,385.95 L483,386.09 L483.5,386 L484,385.98 L484.5,386.06 L485,386.03 L485.5,386.21 L486,386.12 L486.5,385.9 L487,386.12 L487.5,386.07 L488,386.07 L488.5,386.12 L489,386.11 L489.5,386.24 L490,386.28 L490.5,386.04 L491,386.23 L491.5,386.05 L492,386.02 L492.5,386.05 L493,386.28 L493.5,385.96 L494,386.14 L494.5,386.05 L495,385.98 L495.5,386.2 L496,386.1 L496.5,386.01 L497,386.2 L497.5,386.24 L498,386.09 L498.5,386.08 L499,386.29 L499.5,386.22 L500,386.06 L500.5,386.2 L501,386.04 L501.5,386.12 L502,386.29 L502.5,386.04 L503,386.35 L503.5,386.16 L504,386.21 L504.5,386.03 L505,386.12 L505.5,386.08 L506,386.28 L506.5,386.11 L507,386.19 L507.5,386.04 L508,386.11 L508.5,386.05 L509,386.32 L509.5,386.06 L510,386.23 L510.5,385.99 L511,386.24 L511.5,386.11 L512,386.04 L512.5,386.23 L513,386.05 L513.5,386.17 L514,386.25 L514.5,386.36 L515,386.3 L515.5,386.24 L516,386.36 L516.5,386.07 L517,386.09 L517.5,386.22 L518,386.17 L518.5,386.1 L519,386.22 L519.5,386.37 L520,386.09 L520.5,386.22 L521,386.13 L521.5,386.3 L522,386.14" fill="none" stroke="#8a8a8a" stroke-width="1.2" stroke-linejoin="round"/>
<path d="M339.5,404.78 L340,404.76 L340.5,404.72 L341,404.63 L341.5,404.47 L342,404.39 L342.5,404.42 L343,404.91 L343.5,404.46 L344,404.28 L344.5,404.83 L345,404.51 L345.5,404.31 L346,404.05 L346.5,404.52 L347,404.23 L347.5,404.29 L348,403.65 L348.5,403.93 L349,403.48 L349.5,403.28 L350,403.33 L350.5,402.89 L351,401.88 L351.5,401.18 L352,400.54 L352.5,399.63 L353,397.95 L353.5,395.87 L354,393.38 L354.5,389.98 L355,386.45 L355.5,383.06 L356,379.93 L356.5,378.93 L357,379.46 L357.5,381.91 L358,385.34 L358.5,388.94 L359,391.87 L359.5,394.61 L360,397.03 L360.5,398.66 L361,399.97 L361.5,400.93 L362,401.97 L362.5,402.16 L363,402.82 L363.5,403.41 L364,403.09 L364.5,403.69 L365,403.5 L365.5,404 L366,404.29 L366.5,403.88 L367,404.46 L367.5,404.57 L368,404.47 L368.5,404.2 L369,404.86 L369.5,404.64 L370,404.61 L370.5,404.96 L371,404.77 L371.5,404.97 L372,404.72 L372.5,404.51 L373,404.95 L373.5,404.49 L374,404.98 L374.5,404.85 L375,405.2 L375.5,404.92 L376,404.61 L376.5,405.23 L377,405.04 L377.5,404.62 L378,404.84 L378.5,404.94 L379,405.08 L379.5,404.67 L380,404.82 L380.5,404.88 L381,405.05 L381.5,405.17 L382,405.18 L382.5,405.37 L383,404.81 L383.5,405.22 L384,404.83 L384.5,405.4 L385,405.24 L385.5,405.2 L386,404.84 L386.5,405.38 L387,405.19 L387.5,405.29 L388,405.29 L388.5,405.28 L389,405.32 L389.5,405.38 L390,405.42 L390.5,404.76 L391,405.02 L391.5,404.82 L392,405.17 L392.5,405.2 L393,405.35 L393.5,405.11 L394,404.84 L394.5,405.36 L395,405.26 L395.5,405.27 L396,405 L396.5,404.99 L397,405.17 L397.5,404.85 L398,405.29 L398.5,404.9 L399,405.41 L399.5,405.15 L400,404.94 L400.5,404.95 L401,405.33 L401.5,405.35 L402,404.87 L402.5,405.12 L403,404.94 L403.5,405.01 L404,405.43 L404.5,405.06 L405,404.96 L405.5,405.17 L406,405.42 L406.5,405.41 L407,404.8 L407.5,405.03 L408,405.29 L408.5,405.05 L409,405.39 L409.5,404.92 L410,405.45 L410.5,404.84 L411,405.34 L411.5,405.5 L412,405.36 L412.5,405.39 L413,405.19 L413.5,405.49 L414,405.1 L414.5,405.25 L415,404.98 L415.5,404.83 L416,405.45 L416.5,405.02 L417,404.83 L417.5,405.11 L418,405.44 L418.5,404.92 L419,405.27 L419.5,405.23 L420,404.92 L420.5,405.25 L421,405.43 L421.5,405.21 L422,405.13 L422.5,405.19 L423,405.16 L423.5,405.11 L424,405.2 L424.5,405.02 L425,405.45 L425.5,405.31 L426,405.17 L426.5,405.05 L427,404.86 L427.5,405.21 L428,405.2 L428.5,405.43 L429,405.11 L429.5,405.23 L430,405.4 L430.5,405.33 L431,405.07 L431.5,405.1 L432,405.31 L432.5,405.33 L433,405.29 L433.5,404.97 L434,405.42 L434.5,404.93 L435,405.14 L435.5,405 L436,404.86 L436.5,404.98 L437,405.27 L437.5,405.08 L438,405.07 L438.5,404.8 L439,405.02 L439.5,405.09 L440,405.41 L440.5,405.14 L441,405.01 L441.5,405.32 L442,404.97 L442.5,404.95 L443,404.81 L443.5,404.91 L444,405.39 L444.5,405.11 L445,405.14 L445.5,405.34 L446,405.21 L446.5,405.15 L447,405.09 L447.5,405.39 L448,405.45 L448.5,405.36 L449,404.88 L449.5,405.15 L450,405.02 L450.5,405.18 L451,405.39 L451.5,405.42 L452,405.23 L452.5,405.34 L453,405.13 L453.5,405.11 L454,405.05 L454.5,404.94 L455,404.72 L455.5,405.12 L456,405.19 L456.5,405.34 L457,405.21 L457.5,405.22 L458,405.15 L458.5,405.18 L459,405.02 L459.5,405.03 L460,404.58 L460.5,404.95 L461,405.07 L461.5,404.75 L462,404.74 L462.5,404.8 L463,404.46 L463.5,404.33 L464,404.65 L464.5,404.78 L465,404.75 L465.5,404.2 L466,404.07 L466.5,404.39 L467,403.99 L467.5,403.9 L468,403.64 L468.5,403.03 L469,402.35 L469.5,402.04 L470,400.87 L470.5,400.1 L471,399.25 L471.5,397.46 L472,395.99 L472.5,394.72 L473,393.79 L473.5,393.43 L474,394.27 L474.5,395 L475,396.9 L475.5,398.46 L476,399.47 L476.5,400.36 L477,401.41 L477.5,402.18 L478,402.52 L478.5,403.51 L479,403.91 L479.5,403.6 L480,404.4 L480.5,404.15 L481,404.29 L481.5,404.61 L482,404.43 L482.5,404.41 L483,404.36 L483.5,404.48 L484,404.69 L484.5,404.76 L485,404.83 L485.5,404.6 L486,404.64 L486.5,404.62 L487,404.64 L487.5,405.11 L488,404.81 L488.5,405.2 L489,404.73 L489.5,405.13 L490,404.99 L490.5,404.85 L491,405.16 L491.5,404.92 L492,404.8 L492.5,405.01 L493,405.16 L493.5,405.38 L494,405.2 L494.5,405.1 L495,404.81 L495.5,405.09 L496,405.26 L496.5,405.13 L497,405.38 L497.5,405.07 L498,404.91 L498.5,404.89 L499,405.24 L499.5,405.26 L500,405.05 L500.5,405.31 L501,405.01 L501.5,404.85 L502,405.41 L502.5,404.85 L503,405.07 L503.5,405.43 L504,404.92 L504.5,405.44 L505,405.2 L505.5,405.36 L506,405.39 L506.5,405.49 L507,405.23 L507.5,405.24 L508,405.13 L508.5,405.44 L509,405.48 L509.5,405.44 L510,405.05 L510.5,405.3 L511,405.36 L511.5,405.46 L512,405.38 L512.5,404.99 L513,405.15 L513.5,405.18 L514,405.12 L514.5,404.85 L515,405.09 L515.5,404.94 L516,405.09 L516.5,405.17 L517,405.43 L517.5,405.27 L518,405.12 L518.5,405.03 L519,404.99 L519.5,404.86 L520,404.86 L520.5,405.01 L521,405.46 L521.5,405.49 L522,404.83" fill="none" stroke="#000000" stroke-width="1.7" stroke-linejoin="round"/>
<path d="M339.5,423.94 L340,424.1 L340.5,423.99 L341,423.94 L341.5,424.16 L342,423.96 L342.5,424.06 L343,424.03 L343.5,424.09 L344,424.11 L344.5,424.02 L345,424.07 L345.5,424.04 L346,424.06 L346.5,423.89 L347,423.92 L347.5,423.88 L348,423.78 L348.5,423.96 L349,423.98 L349.5,423.77 L350,423.76 L350.5,423.62 L351,423.85 L351.5,423.74 L352,423.64 L352.5,423.51 L353,423.34 L353.5,423.13 L354,423.19 L354.5,422.63 L355,422.27 L355.5,421.81 L356,420.5 L356.5,418.82 L357,416.37 L357.5,413.99 L358,414.37 L358.5,416.21 L359,417.26 L359.5,416.83 L360,415.79 L360.5,416.22 L361,417.82 L361.5,419.78 L362,421.12 L362.5,421.9 L363,422.49 L363.5,422.68 L364,422.94 L364.5,423.37 L365,423.28 L365.5,423.45 L366,423.59 L366.5,423.54 L367,423.81 L367.5,423.89 L368,423.74 L368.5,423.92 L369,423.93 L369.5,423.99 L370,423.75 L370.5,423.94 L371,423.83 L371.5,423.95 L372,423.96 L372.5,423.84 L373,423.84 L373.5,423.94 L374,423.98 L374.5,423.85 L375,424.07 L375.5,424.11 L376,424.02 L376.5,423.89 L377,423.92 L377.5,424.11 L378,424.1 L378.5,423.96 L379,423.93 L379.5,423.98 L380,424.07 L380.5,423.97 L381,423.92 L381.5,424.13 L382,424.03 L382.5,424.05 L383,424.09 L383.5,424.02 L384,424.12 L384.5,424.03 L385,424.14 L385.5,424.17 L386,424.03 L386.5,424.04 L387,423.92 L387.5,423.97 L388,424.18 L388.5,424.14 L389,424.19 L389.5,424.2 L390,423.94 L390.5,423.98 L391,424.09 L391.5,423.95 L392,424.18 L392.5,423.94 L393,424.21 L393.5,424.02 L394,424.17 L394.5,423.95 L395,424.02 L395.5,424.18 L396,424.09 L396.5,423.97 L397,424.12 L397.5,424.2 L398,424 L398.5,424.02 L399,424.14 L399.5,423.94 L400,424.07 L400.5,424.16 L401,424.07 L401.5,424.07 L402,424.06 L402.5,424.1 L403,424.19 L403.5,423.99 L404,424.09 L404.5,424.16 L405,423.95 L405.5,424.01 L406,424.08 L406.5,423.99 L407,424.19 L407.5,424.06 L408,423.94 L408.5,424.22 L409,424.09 L409.5,424.23 L410,424.19 L410.5,423.97 L411,424.13 L411.5,424.06 L412,424.07 L412.5,424.04 L413,424 L413.5,424.17 L414,424.09 L414.5,424.2 L415,424.07 L415.5,423.99 L416,424.21 L416.5,424.02 L417,424.05 L417.5,423.97 L418,424.08 L418.5,424.23 L419,424.09 L419.5,424.03 L420,424.21 L420.5,424.05 L421,423.99 L421.5,423.95 L422,424.09 L422.5,424.2 L423,423.95 L423.5,423.98 L424,424.13 L424.5,424.19 L425,424.11 L425.5,424.18 L426,424.17 L426.5,424 L427,424.21 L427.5,424.12 L428,424.14 L428.5,424.17 L429,424.17 L429.5,424.06 L430,424.02 L430.5,424.02 L431,423.98 L431.5,424.1 L432,424.13 L432.5,423.94 L433,424.21 L433.5,424.17 L434,424.17 L434.5,424.15 L435,424.15 L435.5,424.09 L436,423.92 L436.5,423.94 L437,423.94 L437.5,423.93 L438,424.19 L438.5,423.94 L439,423.94 L439.5,424.07 L440,423.98 L440.5,424.18 L441,423.94 L441.5,424.04 L442,424 L442.5,424.13 L443,424.13 L443.5,423.89 L444,423.96 L444.5,424.09 L445,424.06 L445.5,424.08 L446,423.99 L446.5,424.13 L447,424.01 L447.5,423.91 L448,423.93 L448.5,423.81 L449,423.78 L449.5,423.76 L450,423.76 L450.5,423.7 L451,423.41 L451.5,423.3 L452,422.56 L452.5,421.47 L453,420.68 L453.5,421.1 L454,422.22 L454.5,423.05 L455,423.49 L455.5,423.43 L456,423.7 L456.5,423.8 L457,423.68 L457.5,423.91 L458,423.92 L458.5,423.75 L459,423.85 L459.5,423.94 L460,423.86 L460.5,423.9 L461,423.78 L461.5,423.92 L462,423.82 L462.5,423.88 L463,423.71 L463.5,423.96 L464,423.7 L464.5,423.69 L465,423.64 L465.5,423.6 L466,423.61 L466.5,423.77 L467,423.68 L467.5,423.48 L468,423.42 L468.5,423.59 L469,423.41 L469.5,423.27 L470,423.34 L470.5,422.95 L471,422.98 L471.5,422.63 L472,422.26 L472.5,421.6 L473,420.49 L473.5,418.84 L474,416.45 L474.5,413.44 L475,409.69 L475.5,405.64 L476,401.99 L476.5,399.34 L477,398.77 L477.5,400.28 L478,403.53 L478.5,407.52 L479,411.2 L479.5,414.9 L480,417.52 L480.5,419.51 L481,420.97 L481.5,421.72 L482,422.3 L482.5,422.68 L483,422.89 L483.5,423.05 L484,423.3 L484.5,423.28 L485,423.48 L485.5,423.55 L486,423.54 L486.5,423.51 L487,423.8 L487.5,423.61 L488,423.77 L488.5,423.7 L489,423.67 L489.5,423.7 L490,423.72 L490.5,423.95 L491,424 L491.5,423.92 L492,423.82 L492.5,424 L493,423.99 L493.5,423.91 L494,423.95 L494.5,423.82 L495,423.93 L495.5,423.89 L496,423.99 L496.5,424.06 L497,424.05 L497.5,424.03 L498,423.86 L498.5,424.01 L499,423.99 L499.5,424.08 L500,423.9 L500.5,424.14 L501,423.95 L501.5,423.89 L502,423.99 L502.5,423.96 L503,423.88 L503.5,423.9 L504,424.01 L504.5,424.02 L505,423.99 L505.5,423.99 L506,424.06 L506.5,424.1 L507,423.92 L507.5,423.94 L508,424.12 L508.5,424.1 L509,423.99 L509.5,423.95 L510,423.96 L510.5,424.04 L511,424.05 L511.5,424.16 L512,423.97 L512.5,423.96 L513,424.05 L513.5,424.06 L514,424.12 L514.5,423.99 L515,423.99 L515.5,424.21 L516,424.03 L516.5,424.04 L517,424.01 L517.5,424.21 L518,424.03 L518.5,424.21 L519,424.08 L519.5,424.18 L520,424.18 L520.5,423.97 L521,424.1 L521.5,424.04 L522,424.07" fill="none" stroke="#8a8a8a" stroke-width="1.2" stroke-linejoin="round"/>
<path d="M339.5,440.48 L340,439.93 L340.5,440.76 L341,441.42 L341.5,441.19 L342,440.98 L342.5,440.61 L343,440.35 L343.5,439.9 L344,440.79 L344.5,440.11 L345,440.58 L345.5,440.94 L346,441.19 L346.5,439.81 L347,439.76 L347.5,440.82 L348,439.48 L348.5,440.84 L349,440.66 L349.5,439.82 L350,439.45 L350.5,439.67 L351,439.06 L351.5,440.24 L352,439.26 L352.5,439.57 L353,438.87 L353.5,438.44 L354,438.51 L354.5,438.33 L355,438.18 L355.5,437.29 L356,435.61 L356.5,435.55 L357,434.8 L357.5,434.05 L358,431.96 L358.5,430.51 L359,428.65 L359.5,427.53 L360,426.46 L360.5,424.4 L361,422.81 L361.5,422.45 L362,420 L362.5,419.74 L363,417.66 L363.5,417.7 L364,418.43 L364.5,417.52 L365,418.07 L365.5,419.9 L366,421.34 L366.5,422.7 L367,422.56 L367.5,424.09 L368,426.88 L368.5,427.19 L369,429.76 L369.5,431.6 L370,431.89 L370.5,433.67 L371,433.68 L371.5,434.92 L372,436.37 L372.5,437.31 L373,437.63 L373.5,437.31 L374,438.64 L374.5,437.89 L375,438.72 L375.5,440.2 L376,438.93 L376.5,439.47 L377,440.23 L377.5,439.46 L378,440.37 L378.5,440.52 L379,439.75 L379.5,440.13 L380,440.13 L380.5,439.94 L381,440.7 L381.5,441.03 L382,440.18 L382.5,441.34 L383,440.32 L383.5,440.77 L384,441.14 L384.5,441.09 L385,440.7 L385.5,440.89 L386,440.44 L386.5,440.11 L387,440.25 L387.5,441.56 L388,441.32 L388.5,440.01 L389,440.02 L389.5,441.55 L390,440.34 L390.5,440.13 L391,441.48 L391.5,440.52 L392,440.66 L392.5,441.78 L393,440.65 L393.5,440.06 L394,441.39 L394.5,440.38 L395,441.11 L395.5,440.11 L396,440.84 L396.5,441.23 L397,440.15 L397.5,440.29 L398,441.65 L398.5,441.14 L399,440.15 L399.5,440.31 L400,441.41 L400.5,441.28 L401,440.45 L401.5,441.46 L402,441.78 L402.5,441.38 L403,441.2 L403.5,441.66 L404,440.97 L404.5,441.67 L405,441.94 L405.5,441.86 L406,441.25 L406.5,440.74 L407,441.52 L407.5,440.8 L408,441.13 L408.5,440.89 L409,441.68 L409.5,440.28 L410,441.84 L410.5,441.42 L411,440.4 L411.5,441.06 L412,441.89 L412.5,441.72 L413,441.87 L413.5,440.32 L414,441.74 L414.5,441.85 L415,441.93 L415.5,441.83 L416,440.91 L416.5,440.4 L417,441.01 L417.5,441.03 L418,441.12 L418.5,441.38 L419,441.56 L419.5,440.73 L420,440.55 L420.5,440.57 L421,441.64 L421.5,440.9 L422,441.18 L422.5,440.61 L423,440.2 L423.5,441.41 L424,441.37 L424.5,440.9 L425,440.79 L425.5,441.11 L426,441.23 L426.5,441.29 L427,440.25 L427.5,440.89 L428,441.07 L428.5,440.96 L429,441.7 L429.5,441.42 L430,440.62 L430.5,441.72 L431,441.22 L431.5,441.25 L432,440.4 L432.5,439.85 L433,440.54 L433.5,440.16 L434,440.24 L434.5,440.14 L435,439.39 L435.5,438.82 L436,439.16 L436.5,439.55 L437,439.98 L437.5,439.88 L438,439.89 L438.5,440.59 L439,440.26 L439.5,440.86 L440,441.62 L440.5,440.75 L441,441.45 L441.5,441.3 L442,441.22 L442.5,440.27 L443,440.28 L443.5,441.33 L444,441.63 L444.5,441.25 L445,440.55 L445.5,441.11 L446,440.42 L446.5,440.76 L447,441.38 L447.5,440.61 L448,441.78 L448.5,441 L449,440.92 L449.5,441.86 L450,440.98 L450.5,440.68 L451,441.32 L451.5,440.62 L452,440.78 L452.5,441.35 L453,441.07 L453.5,440.78 L454,440.3 L454.5,440.53 L455,440.3 L455.5,441.36 L456,441.89 L456.5,440.45 L457,441.24 L457.5,440.35 L458,441.64 L458.5,441.94 L459,440.91 L459.5,441.87 L460,441.93 L460.5,440.4 L461,441.77 L461.5,441.68 L462,440.23 L462.5,441 L463,440.18 L463.5,440.63 L464,441.1 L464.5,440.54 L465,441.36 L465.5,441.74 L466,441.26 L466.5,441.33 L467,441.3 L467.5,440.21 L468,441.53 L468.5,440.45 L469,441.19 L469.5,441.42 L470,440.36 L470.5,440.29 L471,440.95 L471.5,441.45 L472,441.11 L472.5,441.01 L473,441.14 L473.5,440.35 L474,440.99 L474.5,440.21 L475,440.93 L475.5,440.85 L476,439.9 L476.5,439.66 L477,439.52 L477.5,439.19 L478,438.82 L478.5,438.67 L479,436.05 L479.5,435.25 L480,434.77 L480.5,433.39 L481,431.26 L481.5,430.18 L482,428.28 L482.5,428.66 L483,428.59 L483.5,430.57 L484,432.63 L484.5,433.9 L485,434.21 L485.5,435.53 L486,436.9 L486.5,438.52 L487,438.9 L487.5,439.54 L488,439.44 L488.5,440.03 L489,440.57 L489.5,441.11 L490,440.07 L490.5,440.31 L491,440.36 L491.5,440.34 L492,441.18 L492.5,441.19 L493,440.52 L493.5,440.93 L494,441.11 L494.5,440.82 L495,440.13 L495.5,440.73 L496,440.47 L496.5,441.71 L497,440.64 L497.5,440.96 L498,441.31 L498.5,441.45 L499,440.83 L499.5,441.02 L500,441.08 L500.5,441.13 L501,441.86 L501.5,441.87 L502,440.56 L502.5,440.68 L503,440.58 L503.5,440.62 L504,441.75 L504.5,441.5 L505,440.37 L505.5,440.26 L506,440.25 L506.5,440.54 L507,441.4 L507.5,441.42 L508,441.08 L508.5,441.91 L509,440.98 L509.5,441.4 L510,440.88 L510.5,440.17 L511,440.65 L511.5,440.44 L512,440.7 L512.5,440.21 L513,440.18 L513.5,441.55 L514,440.6 L514.5,440.8 L515,440.48 L515.5,441.59 L516,441.13 L516.5,439.7 L517,439.72 L517.5,440.1 L518,440.4 L518.5,439.96 L519,438.57 L519.5,438.22 L520,439.97 L520.5,440.26 L521,440.92 L521.5,439.47 L522,440.15" fill="none" stroke="#000000" stroke-width="2.2" stroke-linejoin="round"/>
<path d="M339.5,461.45 L340,461.45 L340.5,461.51 L341,461.43 L341.5,461.44 L342,461.48 L342.5,461.49 L343,461.51 L343.5,461.45 L344,461.45 L344.5,461.49 L345,461.5 L345.5,461.43 L346,461.46 L346.5,461.44 L347,461.46 L347.5,461.49 L348,461.4 L348.5,461.48 L349,461.42 L349.5,461.41 L350,461.44 L350.5,461.37 L351,461.42 L351.5,461.39 L352,461.35 L352.5,461.37 L353,461.41 L353.5,461.34 L354,461.29 L354.5,461.25 L355,461.24 L355.5,461.22 L356,461.22 L356.5,461.19 L357,461.06 L357.5,460.95 L358,460.85 L358.5,460.72 L359,460.47 L359.5,460.13 L360,459.59 L360.5,458.19 L361,455.12 L361.5,448.8 L362,439.78 L362.5,436.26 L363,443.42 L363.5,451.72 L364,456.64 L364.5,458.89 L365,459.84 L365.5,460.33 L366,460.61 L366.5,460.84 L367,460.93 L367.5,461.04 L368,461.15 L368.5,461.16 L369,461.23 L369.5,461.31 L370,461.31 L370.5,461.28 L371,461.33 L371.5,461.31 L372,461.34 L372.5,461.41 L373,461.39 L373.5,461.44 L374,461.42 L374.5,461.47 L375,461.4 L375.5,461.45 L376,461.39 L376.5,461.4 L377,461.43 L377.5,461.41 L378,461.44 L378.5,461.48 L379,461.44 L379.5,461.41 L380,461.51 L380.5,461.5 L381,461.5 L381.5,461.43 L382,461.43 L382.5,461.46 L383,461.51 L383.5,461.5 L384,461.45 L384.5,461.45 L385,461.51 L385.5,461.51 L386,461.45 L386.5,461.45 L387,461.5 L387.5,461.46 L388,461.48 L388.5,461.46 L389,461.53 L389.5,461.43 L390,461.49 L390.5,461.44 L391,461.51 L391.5,461.5 L392,461.5 L392.5,461.52 L393,461.51 L393.5,461.5 L394,461.46 L394.5,461.49 L395,461.48 L395.5,461.52 L396,461.45 L396.5,461.46 L397,461.53 L397.5,461.52 L398,461.49 L398.5,461.52 L399,461.52 L399.5,461.5 L400,461.49 L400.5,461.49 L401,461.48 L401.5,461.52 L402,461.54 L402.5,461.49 L403,461.54 L403.5,461.49 L404,461.52 L404.5,461.51 L405,461.5 L405.5,461.48 L406,461.52 L406.5,461.47 L407,461.49 L407.5,461.45 L408,461.48 L408.5,461.48 L409,461.47 L409.5,461.53 L410,461.54 L410.5,461.48 L411,461.48 L411.5,461.48 L412,461.52 L412.5,461.49 L413,461.5 L413.5,461.47 L414,461.52 L414.5,461.5 L415,461.47 L415.5,461.52 L416,461.45 L416.5,461.45 L417,461.48 L417.5,461.53 L418,461.5 L418.5,461.49 L419,461.53 L419.5,461.54 L420,461.49 L420.5,461.53 L421,461.48 L421.5,461.54 L422,461.47 L422.5,461.47 L423,461.47 L423.5,461.45 L424,461.52 L424.5,461.52 L425,461.54 L425.5,461.51 L426,461.47 L426.5,461.47 L427,461.49 L427.5,461.47 L428,461.46 L428.5,461.49 L429,461.49 L429.5,461.49 L430,461.51 L430.5,461.49 L431,461.45 L431.5,461.53 L432,461.46 L432.5,461.52 L433,461.5 L433.5,461.45 L434,461.55 L434.5,461.51 L435,461.52 L435.5,461.51 L436,461.53 L436.5,461.51 L437,461.54 L437.5,461.51 L438,461.48 L438.5,461.51 L439,461.49 L439.5,461.45 L440,461.48 L440.5,461.5 L441,461.45 L441.5,461.5 L442,461.53 L442.5,461.53 L443,461.5 L443.5,461.53 L444,461.49 L444.5,461.45 L445,461.54 L445.5,461.46 L446,461.52 L446.5,461.45 L447,461.47 L447.5,461.47 L448,461.51 L448.5,461.52 L449,461.45 L449.5,461.53 L450,461.51 L450.5,461.47 L451,461.48 L451.5,461.53 L452,461.53 L452.5,461.46 L453,461.45 L453.5,461.52 L454,461.53 L454.5,461.49 L455,461.47 L455.5,461.51 L456,461.53 L456.5,461.51 L457,461.45 L457.5,461.55 L458,461.52 L458.5,461.47 L459,461.51 L459.5,461.51 L460,461.48 L460.5,461.55 L461,461.52 L461.5,461.54 L462,461.5 L462.5,461.48 L463,461.48 L463.5,461.49 L464,461.54 L464.5,461.52 L465,461.46 L465.5,461.49 L466,461.53 L466.5,461.47 L467,461.52 L467.5,461.5 L468,461.47 L468.5,461.49 L469,461.51 L469.5,461.53 L470,461.46 L470.5,461.49 L471,461.51 L471.5,461.45 L472,461.51 L472.5,461.49 L473,461.51 L473.5,461.47 L474,461.48 L474.5,461.45 L475,461.47 L475.5,461.52 L476,461.49 L476.5,461.48 L477,461.47 L477.5,461.55 L478,461.48 L478.5,461.49 L479,461.5 L479.5,461.45 L480,461.48 L480.5,461.51 L481,461.45 L481.5,461.53 L482,461.47 L482.5,461.51 L483,461.53 L483.5,461.51 L484,461.51 L484.5,461.46 L485,461.52 L485.5,461.46 L486,461.46 L486.5,461.53 L487,461.45 L487.5,461.52 L488,461.51 L488.5,461.46 L489,461.48 L489.5,461.48 L490,461.47 L490.5,461.51 L491,461.49 L491.5,461.5 L492,461.54 L492.5,461.47 L493,461.54 L493.5,461.54 L494,461.52 L494.5,461.47 L495,461.51 L495.5,461.46 L496,461.45 L496.5,461.48 L497,461.52 L497.5,461.47 L498,461.51 L498.5,461.52 L499,461.53 L499.5,461.52 L500,461.54 L500.5,461.46 L501,461.51 L501.5,461.52 L502,461.48 L502.5,461.55 L503,461.47 L503.5,461.49 L504,461.49 L504.5,461.55 L505,461.48 L505.5,461.51 L506,461.45 L506.5,461.46 L507,461.46 L507.5,461.49 L508,461.47 L508.5,461.47 L509,461.54 L509.5,461.51 L510,461.55 L510.5,461.54 L511,461.5 L511.5,461.48 L512,461.52 L512.5,461.46 L513,461.47 L513.5,461.48 L514,461.51 L514.5,461.51 L515,461.53 L515.5,461.55 L516,461.52 L516.5,461.54 L517,461.54 L517.5,461.46 L518,461.52 L518.5,461.53 L519,461.46 L519.5,461.49 L520,461.5 L520.5,461.51 L521,461.52 L521.5,461.46 L522,461.53" fill="none" stroke="#8a8a8a" stroke-width="1.2" stroke-linejoin="round"/>
<path d="M339.5,477.36 L340,476.95 L340.5,477.16 L341,477.87 L341.5,477.34 L342,477.57 L342.5,477.34 L343,478 L343.5,476.79 L344,477.94 L344.5,476.72 L345,477.6 L345.5,476.37 L346,477.14 L346.5,476.27 L347,477.22 L347.5,476.78 L348,476.9 L348.5,477.23 L349,476.94 L349.5,477.17 L350,477.33 L350.5,477.15 L351,477.45 L351.5,476.53 L352,477.18 L352.5,476.99 L353,477.63 L353.5,477 L354,476.49 L354.5,475.83 L355,477.07 L355.5,476.6 L356,476.89 L356.5,475.69 L357,475.59 L357.5,476.03 L358,476.12 L358.5,475.36 L359,475.82 L359.5,476.45 L360,476.23 L360.5,475.94 L361,475.34 L361.5,476.2 L362,475.88 L362.5,474.87 L363,474.68 L363.5,474.75 L364,473.77 L364.5,473.9 L365,472.53 L365.5,471.2 L366,470.65 L366.5,469.55 L367,469.01 L367.5,468.35 L368,466.49 L368.5,465.51 L369,462.84 L369.5,462.17 L370,459.59 L370.5,458.12 L371,457.28 L371.5,455.49 L372,455.4 L372.5,455.3 L373,455.23 L373.5,455.5 L374,457.59 L374.5,458.78 L375,460.91 L375.5,461.62 L376,463.62 L376.5,466 L377,467.73 L377.5,467.85 L378,469.45 L378.5,471.04 L379,472.34 L379.5,471.44 L380,473.1 L380.5,474.16 L381,474.23 L381.5,474.11 L382,474.48 L382.5,475.5 L383,474.83 L383.5,476.05 L384,476 L384.5,476.43 L385,476.17 L385.5,475.51 L386,476.16 L386.5,477.08 L387,476.39 L387.5,475.74 L388,477.13 L388.5,476.56 L389,476.45 L389.5,476.89 L390,475.84 L390.5,476.24 L391,476.57 L391.5,476.7 L392,476.05 L392.5,477.55 L393,477.38 L393.5,476.25 L394,476.78 L394.5,477.18 L395,476.32 L395.5,477.34 L396,477.77 L396.5,476.46 L397,477.98 L397.5,477.88 L398,476.96 L398.5,476.94 L399,477.06 L399.5,477.2 L400,477.32 L400.5,477.16 L401,477.03 L401.5,476.88 L402,476.56 L402.5,478.05 L403,477.6 L403.5,477.11 L404,477.15 L404.5,478.16 L405,477.52 L405.5,476.89 L406,478.13 L406.5,476.57 L407,477.46 L407.5,476.6 L408,477.12 L408.5,476.68 L409,477.65 L409.5,477.83 L410,478.14 L410.5,477.37 L411,477.91 L411.5,477.17 L412,478.15 L412.5,477.21 L413,477.88 L413.5,477.87 L414,477.71 L414.5,476.66 L415,477.29 L415.5,477.43 L416,478.31 L416.5,477.57 L417,478.16 L417.5,478.27 L418,478.28 L418.5,478.11 L419,476.97 L419.5,476.62 L420,478.31 L420.5,476.67 L421,477.57 L421.5,478.03 L422,477.46 L422.5,476.64 L423,477.92 L423.5,478.19 L424,476.79 L424.5,477.01 L425,478.32 L425.5,477.05 L426,477.18 L426.5,478.33 L427,477.61 L427.5,477.58 L428,477.89 L428.5,476.91 L429,477.77 L429.5,478.28 L430,477.11 L430.5,478.02 L431,477.77 L431.5,478.28 L432,476.66 L432.5,477.94 L433,477.1 L433.5,477.79 L434,477.94 L434.5,476.68 L435,476.98 L435.5,478.03 L436,477.59 L436.5,477.52 L437,476.61 L437.5,477.92 L438,477.08 L438.5,477.94 L439,476.67 L439.5,476.64 L440,477.34 L440.5,478.08 L441,477.97 L441.5,477.88 L442,477.09 L442.5,477.59 L443,477.39 L443.5,477.3 L444,477.07 L444.5,476.8 L445,478.08 L445.5,477.21 L446,477.25 L446.5,476.74 L447,477.19 L447.5,476.95 L448,477.24 L448.5,476.71 L449,478.23 L449.5,477.84 L450,476.78 L450.5,477.91 L451,477.99 L451.5,477.96 L452,478.41 L452.5,477.16 L453,477.45 L453.5,478.25 L454,477.88 L454.5,477.38 L455,478.19 L455.5,477.62 L456,478.19 L456.5,477.83 L457,478.13 L457.5,476.84 L458,477.2 L458.5,478.32 L459,477.43 L459.5,477.16 L460,477.17 L460.5,476.8 L461,478.26 L461.5,478.11 L462,478.28 L462.5,477.64 L463,477.17 L463.5,477.52 L464,478.32 L464.5,478.32 L465,478.07 L465.5,476.63 L466,477.2 L466.5,478.02 L467,477.03 L467.5,478.08 L468,477.63 L468.5,476.57 L469,476.89 L469.5,476.88 L470,477.79 L470.5,476.92 L471,477.14 L471.5,478.02 L472,477.49 L472.5,477.22 L473,476.76 L473.5,477.22 L474,476.65 L474.5,477.46 L475,477.31 L475.5,477.71 L476,477.13 L476.5,477.61 L477,476.95 L477.5,478.07 L478,477.29 L478.5,477.35 L479,477.8 L479.5,476.76 L480,476.6 L480.5,476.94 L481,477.51 L481.5,477.23 L482,477.27 L482.5,476.47 L483,476.96 L483.5,476.08 L484,475.55 L484.5,476.77 L485,475.47 L485.5,475.94 L486,474.48 L486.5,474.95 L487,472.65 L487.5,471.85 L488,472.53 L488.5,470.34 L489,470.19 L489.5,469.34 L490,467.7 L490.5,467.31 L491,466.86 L491.5,468.38 L492,469.66 L492.5,469.85 L493,470.75 L493.5,472.55 L494,472.58 L494.5,473.34 L495,473.69 L495.5,474.34 L496,474.56 L496.5,475.83 L497,476.16 L497.5,476.78 L498,477.24 L498.5,476.29 L499,477.61 L499.5,476.92 L500,476.82 L500.5,477.74 L501,477.62 L501.5,477.54 L502,476.26 L502.5,477.69 L503,477.72 L503.5,476.84 L504,477.24 L504.5,478.15 L505,477.75 L505.5,477.53 L506,476.48 L506.5,477.82 L507,477.83 L507.5,477.5 L508,476.74 L508.5,477.51 L509,477.37 L509.5,477.31 L510,478.23 L510.5,476.93 L511,477.54 L511.5,477.79 L512,478.02 L512.5,476.99 L513,477.29 L513.5,477.92 L514,476.85 L514.5,477.67 L515,478.28 L515.5,477.02 L516,477.02 L516.5,476.66 L517,477.62 L517.5,477.01 L518,477.45 L518.5,477.66 L519,477.49 L519.5,478.27 L520,477.02 L520.5,477.32 L521,477.9 L521.5,478.19 L522,478.28" fill="none" stroke="#000000" stroke-width="2.2" stroke-linejoin="round"/>
<path d="M339.5,495.1 L340,495.45 L340.5,494.56 L341,493.78 L341.5,494.97 L342,494.05 L342.5,495.06 L343,493.95 L343.5,494.49 L344,495.02 L344.5,493.15 L345,493.89 L345.5,494.04 L346,493.78 L346.5,495.27 L347,493.22 L347.5,494.12 L348,493.77 L348.5,493.34 L349,493.28 L349.5,495.12 L350,493.86 L350.5,495.16 L351,493.83 L351.5,493.72 L352,493.33 L352.5,493.07 L353,492.87 L353.5,494.67 L354,494.94 L354.5,495.03 L355,494.47 L355.5,494.83 L356,494.12 L356.5,493.78 L357,494.87 L357.5,493.88 L358,492.93 L358.5,493.83 L359,494.5 L359.5,494.15 L360,493.54 L360.5,493.97 L361,492.79 L361.5,493.66 L362,493.4 L362.5,491.98 L363,493.98 L363.5,493.6 L364,493.3 L364.5,491.87 L365,492.89 L365.5,491.64 L366,490.62 L366.5,492.31 L367,491.45 L367.5,489.89 L368,489.82 L368.5,488.49 L369,489.41 L369.5,487.18 L370,487.39 L370.5,485.2 L371,484.28 L371.5,482.11 L372,480.01 L372.5,478.38 L373,477.11 L373.5,476.12 L374,474.05 L374.5,474.06 L375,473.02 L375.5,473.14 L376,474 L376.5,474.79 L377,476.57 L377.5,478.4 L378,479.96 L378.5,480.24 L379,482.1 L379.5,483.36 L380,485.65 L380.5,486.72 L381,487.39 L381.5,488.44 L382,488.54 L382.5,489.71 L383,490.75 L383.5,491.84 L384,491.36 L384.5,492.22 L385,490.95 L385.5,492.85 L386,492.5 L386.5,492.76 L387,493.49 L387.5,493.47 L388,492.7 L388.5,492.88 L389,494.34 L389.5,493.86 L390,494.48 L390.5,493.46 L391,494.17 L391.5,493.9 L392,493.81 L392.5,494.01 L393,494.17 L393.5,493.44 L394,493.3 L394.5,494.67 L395,494.44 L395.5,493.61 L396,493.94 L396.5,495.09 L397,494.66 L397.5,495.15 L398,495.06 L398.5,493.41 L399,494.16 L399.5,495.02 L400,495.19 L400.5,495.33 L401,493.64 L401.5,493.81 L402,494.58 L402.5,493.66 L403,493.28 L403.5,494.27 L404,494.87 L404.5,494.25 L405,494.34 L405.5,494.15 L406,493.21 L406.5,494.75 L407,495.28 L407.5,495.22 L408,494.25 L408.5,494.04 L409,495.21 L409.5,493.63 L410,493.26 L410.5,495.27 L411,494.05 L411.5,493.97 L412,494.04 L412.5,493.59 L413,495.49 L413.5,494.5 L414,495.51 L414.5,494.14 L415,494.62 L415.5,494.62 L416,493.24 L416.5,494.89 L417,493.51 L417.5,495.33 L418,494.62 L418.5,495.04 L419,495.16 L419.5,493.59 L420,493.44 L420.5,494.57 L421,495.15 L421.5,493.31 L422,494.8 L422.5,493.77 L423,494.4 L423.5,494.22 L424,493.79 L424.5,495.42 L425,494.6 L425.5,493.88 L426,493.33 L426.5,495.16 L427,495.28 L427.5,493.41 L428,493.48 L428.5,494.7 L429,493.73 L429.5,495.05 L430,494.93 L430.5,494.54 L431,493.12 L431.5,494.86 L432,493.77 L432.5,494.13 L433,493.43 L433.5,493.49 L434,492.66 L434.5,493.57 L435,492.84 L435.5,494.12 L436,492.7 L436.5,493.15 L437,493.14 L437.5,492.46 L438,492 L438.5,493.08 L439,494.01 L439.5,493.81 L440,494.64 L440.5,492.96 L441,494.46 L441.5,493.56 L442,494.14 L442.5,495.28 L443,494.91 L443.5,494.48 L444,495.56 L444.5,493.55 L445,493.85 L445.5,493.5 L446,494.73 L446.5,495.08 L447,495.3 L447.5,493.5 L448,494.85 L448.5,495.19 L449,493.57 L449.5,495.66 L450,495.11 L450.5,495.55 L451,493.77 L451.5,494.54 L452,493.78 L452.5,494.38 L453,494.89 L453.5,494.49 L454,494.44 L454.5,495.16 L455,495.44 L455.5,494.01 L456,493.37 L456.5,494.2 L457,493.31 L457.5,494.02 L458,495.54 L458.5,494.01 L459,493.88 L459.5,495.52 L460,494.82 L460.5,494.27 L461,495.37 L461.5,495.44 L462,494.91 L462.5,495.07 L463,494.68 L463.5,493.62 L464,494.39 L464.5,494.36 L465,494.51 L465.5,495.07 L466,493.65 L466.5,495.65 L467,495.36 L467.5,494.1 L468,495.03 L468.5,494.88 L469,493.66 L469.5,495.1 L470,494.76 L470.5,494.85 L471,493.45 L471.5,494.91 L472,494.62 L472.5,493.35 L473,495.49 L473.5,494.68 L474,494.9 L474.5,494.17 L475,495.3 L475.5,495.2 L476,493.68 L476.5,495.07 L477,495.24 L477.5,494.01 L478,493.81 L478.5,495.14 L479,492.99 L479.5,493.08 L480,495.05 L480.5,494.33 L481,494.29 L481.5,493.29 L482,494 L482.5,492.83 L483,493.55 L483.5,492.38 L484,492.17 L484.5,491.67 L485,492.21 L485.5,492.41 L486,490.74 L486.5,490.78 L487,489.98 L487.5,487.55 L488,485.63 L488.5,482.09 L489,480.06 L489.5,477.11 L490,476.77 L490.5,477.27 L491,477.89 L491.5,478.91 L492,483 L492.5,484.76 L493,486.43 L493.5,489.23 L494,490.6 L494.5,491.2 L495,490.77 L495.5,492.65 L496,492.77 L496.5,492.31 L497,493.35 L497.5,494.19 L498,493.43 L498.5,494.79 L499,492.94 L499.5,493.12 L500,493.92 L500.5,494.41 L501,493.3 L501.5,495.3 L502,494.96 L502.5,493.61 L503,493.9 L503.5,494.39 L504,493.13 L504.5,494.93 L505,494.82 L505.5,493.76 L506,494.35 L506.5,494.83 L507,493.67 L507.5,495.06 L508,494.65 L508.5,494.88 L509,494.64 L509.5,494.64 L510,494.16 L510.5,493.56 L511,494.55 L511.5,494.94 L512,493.68 L512.5,494.09 L513,494.53 L513.5,494.22 L514,494.9 L514.5,493.43 L515,494.26 L515.5,494.25 L516,495.11 L516.5,494.24 L517,493.75 L517.5,495.7 L518,495.11 L518.5,494.47 L519,493.9 L519.5,493.63 L520,495.13 L520.5,495.06 L521,494.31 L521.5,494.88 L522,494.78" fill="none" stroke="#8a8a8a" stroke-width="2.2" stroke-linejoin="round"/>
<path d="M339.5,514.27 L340,514.83 L340.5,515.67 L341,515.22 L341.5,514.16 L342,515.43 L342.5,515.07 L343,515.67 L343.5,515.56 L344,514.43 L344.5,514.33 L345,514.15 L345.5,515.03 L346,514.86 L346.5,515.09 L347,514.96 L347.5,515.78 L348,514.47 L348.5,515.29 L349,514.87 L349.5,514.02 L350,514.72 L350.5,515.38 L351,514.82 L351.5,514.78 L352,514.21 L352.5,514.63 L353,515.13 L353.5,515.64 L354,515.13 L354.5,515.48 L355,514.51 L355.5,514.73 L356,513.86 L356.5,515.16 L357,514.87 L357.5,515.15 L358,513.95 L358.5,515.07 L359,514.02 L359.5,514.31 L360,514.54 L360.5,515.31 L361,515.18 L361.5,514.38 L362,513.39 L362.5,515.07 L363,514.08 L363.5,514.41 L364,514.08 L364.5,513.93 L365,514.4 L365.5,513.78 L366,513.41 L366.5,513.28 L367,513.3 L367.5,513.58 L368,513.67 L368.5,513.11 L369,511.89 L369.5,511.68 L370,512.39 L370.5,510.96 L371,511.6 L371.5,510.16 L372,509.93 L372.5,507.52 L373,507.13 L373.5,505.93 L374,504.37 L374.5,503.06 L375,499.94 L375.5,498.69 L376,496.25 L376.5,494.94 L377,492.58 L377.5,491.95 L378,491.85 L378.5,492.25 L379,494.47 L379.5,495.54 L380,498.4 L380.5,499.91 L381,501.75 L381.5,504.39 L382,506.16 L382.5,506.38 L383,507.58 L383.5,509.35 L384,509.6 L384.5,509.91 L385,512.03 L385.5,511.6 L386,512 L386.5,513.23 L387,513.41 L387.5,512.33 L388,513.65 L388.5,514.1 L389,513.87 L389.5,514.4 L390,514.46 L390.5,514.55 L391,513.68 L391.5,513.84 L392,514.39 L392.5,514.22 L393,513.84 L393.5,514.72 L394,513.9 L394.5,514.32 L395,513.63 L395.5,514.87 L396,515.24 L396.5,514.74 L397,514.59 L397.5,515.36 L398,515.19 L398.5,514.4 L399,514.01 L399.5,514.23 L400,514.53 L400.5,514.59 L401,515.2 L401.5,515.31 L402,514.25 L402.5,514.66 L403,515.53 L403.5,515.55 L404,515.24 L404.5,514.42 L405,515.04 L405.5,514.56 L406,514.93 L406.5,514.31 L407,515.76 L407.5,514.32 L408,514.26 L408.5,514.18 L409,515.85 L409.5,514.47 L410,514.73 L410.5,514.14 L411,515.56 L411.5,515.84 L412,515.69 L412.5,514.39 L413,514.69 L413.5,515.31 L414,515.78 L414.5,515.05 L415,515.31 L415.5,515.12 L416,515.18 L416.5,514.97 L417,515.57 L417.5,515.59 L418,514.61 L418.5,515.18 L419,514.29 L419.5,514.16 L420,514.24 L420.5,515.32 L421,515.28 L421.5,515.48 L422,515.35 L422.5,514.43 L423,515.95 L423.5,514.79 L424,514.3 L424.5,515.37 L425,515.06 L425.5,515.18 L426,515.34 L426.5,514.68 L427,515.51 L427.5,515.04 L428,515.87 L428.5,515.56 L429,514.61 L429.5,514.88 L430,514.65 L430.5,515.12 L431,514.99 L431.5,515.84 L432,515.17 L432.5,515.59 L433,514.56 L433.5,514.68 L434,515 L434.5,515.93 L435,516 L435.5,514.49 L436,515.98 L436.5,515.21 L437,515.88 L437.5,515.26 L438,515.51 L438.5,514.69 L439,514.85 L439.5,515.06 L440,515.34 L440.5,514.48 L441,515.03 L441.5,514.73 L442,515.98 L442.5,515.92 L443,514.96 L443.5,515.92 L444,514.65 L444.5,515 L445,515.14 L445.5,515.7 L446,514.42 L446.5,514.72 L447,514.24 L447.5,514.78 L448,514.59 L448.5,514.28 L449,515.63 L449.5,515.45 L450,514.74 L450.5,515.2 L451,514.72 L451.5,515.19 L452,514.73 L452.5,514.14 L453,514.92 L453.5,514.78 L454,514.65 L454.5,514.42 L455,515.04 L455.5,514.18 L456,512.1 L456.5,512.39 L457,512.05 L457.5,512.64 L458,513.83 L458.5,514.33 L459,514.22 L459.5,515.46 L460,514.47 L460.5,514.3 L461,515.36 L461.5,514.79 L462,515.22 L462.5,515.39 L463,514.3 L463.5,515.71 L464,514.33 L464.5,514.74 L465,514.78 L465.5,515.82 L466,515.55 L466.5,514.53 L467,514.51 L467.5,514.74 L468,514.3 L468.5,515.88 L469,515.19 L469.5,514.47 L470,514.91 L470.5,515.76 L471,515 L471.5,514.66 L472,515.5 L472.5,514.31 L473,514.47 L473.5,515.96 L474,514.69 L474.5,515.59 L475,514.62 L475.5,514.89 L476,514.82 L476.5,514.24 L477,515.06 L477.5,514.85 L478,515.53 L478.5,515.35 L479,514.6 L479.5,515.64 L480,514.25 L480.5,515.29 L481,514.14 L481.5,515.17 L482,514.88 L482.5,514.51 L483,514.59 L483.5,514.88 L484,515.33 L484.5,514.19 L485,514.51 L485.5,515.76 L486,515.26 L486.5,514.8 L487,514.28 L487.5,515.36 L488,515.65 L488.5,514.36 L489,515.31 L489.5,514.08 L490,515.45 L490.5,514.76 L491,514.97 L491.5,514.28 L492,513.88 L492.5,515.12 L493,514.29 L493.5,514.95 L494,513.39 L494.5,513.96 L495,513.42 L495.5,513.06 L496,512.41 L496.5,512.37 L497,512.56 L497.5,511.92 L498,513.31 L498.5,512.37 L499,512.72 L499.5,513.58 L500,513.92 L500.5,512.88 L501,514.13 L501.5,513.02 L502,513.76 L502.5,513.73 L503,514.24 L503.5,513.74 L504,513.59 L504.5,514.31 L505,514.95 L505.5,514.2 L506,513.97 L506.5,514.75 L507,514.57 L507.5,514.87 L508,514.32 L508.5,514.67 L509,515.04 L509.5,515.4 L510,514.48 L510.5,515.54 L511,515.31 L511.5,515.02 L512,515.83 L512.5,515.68 L513,515.56 L513.5,515.41 L514,515.7 L514.5,514.79 L515,514.6 L515.5,515.52 L516,514.84 L516.5,515.22 L517,514.67 L517.5,514.99 L518,514.36 L518.5,515.89 L519,515.11 L519.5,514.99 L520,515.97 L520.5,514.78 L521,515.42 L521.5,514.41 L522,515.55" fill="none" stroke="#000000" stroke-width="2.2" stroke-linejoin="round"/>
<path d="M339.5,534.09 L340,533.33 L340.5,533.39 L341,534.01 L341.5,533.8 L342,535.09 L342.5,533.38 L343,532.93 L343.5,535.09 L344,535.03 L344.5,533.34 L345,535.2 L345.5,533.14 L346,534.35 L346.5,534.93 L347,534.8 L347.5,533.91 L348,533.94 L348.5,533.79 L349,535.18 L349.5,534.83 L350,534.66 L350.5,535.2 L351,533.02 L351.5,533.76 L352,533.49 L352.5,533.6 L353,533.31 L353.5,533.44 L354,534.83 L354.5,533.07 L355,532.82 L355.5,534.82 L356,533.85 L356.5,533.14 L357,533.24 L357.5,534.82 L358,533.61 L358.5,534.07 L359,532.86 L359.5,534.17 L360,533.96 L360.5,532.61 L361,533.06 L361.5,534.8 L362,532.71 L362.5,534.4 L363,534.38 L363.5,532.67 L364,532.77 L364.5,534.17 L365,533.62 L365.5,533.04 L366,534.29 L366.5,532.63 L367,533.22 L367.5,532.26 L368,533.19 L368.5,533.06 L369,533.67 L369.5,531.42 L370,531.73 L370.5,532.43 L371,532.02 L371.5,532.36 L372,530.66 L372.5,530.29 L373,531.83 L373.5,530.62 L374,530.29 L374.5,528.52 L375,528.05 L375.5,528.38 L376,526.52 L376.5,526.58 L377,524.52 L377.5,523.48 L378,522.13 L378.5,518.96 L379,516.38 L379.5,515.26 L380,512.22 L380.5,511.39 L381,511.49 L381.5,509.28 L382,511.09 L382.5,511.12 L383,513.48 L383.5,515.38 L384,515.89 L384.5,518.7 L385,520.21 L385.5,522.04 L386,522.86 L386.5,525.04 L387,527.11 L387.5,528.78 L388,527.55 L388.5,530.33 L389,529.1 L389.5,530.94 L390,530.65 L390.5,530.53 L391,530.69 L391.5,531.45 L392,533.07 L392.5,532.7 L393,532.74 L393.5,533.45 L394,533.16 L394.5,532.12 L395,532.02 L395.5,532.36 L396,533.45 L396.5,532.03 L397,533.11 L397.5,534.23 L398,533.82 L398.5,532.16 L399,532.34 L399.5,534.06 L400,532.43 L400.5,532.68 L401,534.57 L401.5,534.17 L402,534.68 L402.5,532.98 L403,534.25 L403.5,534.33 L404,533.19 L404.5,532.98 L405,532.88 L405.5,534.92 L406,533.31 L406.5,533.7 L407,534.64 L407.5,534.68 L408,534.48 L408.5,534 L409,533.93 L409.5,533.77 L410,534.29 L410.5,532.97 L411,532.92 L411.5,534.38 L412,534.18 L412.5,534.65 L413,535.18 L413.5,534.93 L414,533.3 L414.5,534.64 L415,533.33 L415.5,534.25 L416,533.01 L416.5,534.03 L417,533.98 L417.5,534.19 L418,534.48 L418.5,534.36 L419,533.31 L419.5,534.56 L420,533.22 L420.5,533.63 L421,533.82 L421.5,533.67 L422,535.06 L422.5,533.33 L423,533.28 L423.5,534.06 L424,533.97 L424.5,534.82 L425,533.56 L425.5,533.47 L426,534.12 L426.5,534.44 L427,534.65 L427.5,533.99 L428,533.35 L428.5,535.12 L429,534.43 L429.5,535.02 L430,534.03 L430.5,535 L431,534.54 L431.5,534.64 L432,534.34 L432.5,535.3 L433,534.11 L433.5,533.28 L434,534.05 L434.5,534.45 L435,533.33 L435.5,533.85 L436,533.91 L436.5,533.36 L437,533.35 L437.5,534.73 L438,534.39 L438.5,533.88 L439,534.11 L439.5,533.58 L440,533.77 L440.5,533.33 L441,533.31 L441.5,534.48 L442,533.1 L442.5,533.39 L443,534.63 L443.5,534.33 L444,533.67 L444.5,533.92 L445,534.35 L445.5,533.85 L446,534.09 L446.5,533.6 L447,534.09 L447.5,533.35 L448,533.07 L448.5,535.05 L449,533.42 L449.5,534.03 L450,533.15 L450.5,534.61 L451,533.71 L451.5,534.78 L452,534.7 L452.5,535.31 L453,533.38 L453.5,535.35 L454,534.11 L454.5,534.31 L455,534.81 L455.5,534.3 L456,533.57 L456.5,533.64 L457,534.79 L457.5,533.41 L458,534.79 L458.5,533.23 L459,535.06 L459.5,534.01 L460,533.08 L460.5,534.68 L461,533.45 L461.5,533.71 L462,533.56 L462.5,533.5 L463,534.16 L463.5,534.79 L464,534.07 L464.5,533.55 L465,534.15 L465.5,534.97 L466,533.55 L466.5,535.14 L467,534.13 L467.5,534.72 L468,534.61 L468.5,535.22 L469,534.36 L469.5,535.14 L470,533.74 L470.5,533.93 L471,534.21 L471.5,534.39 L472,533.36 L472.5,534.3 L473,534.46 L473.5,533.75 L474,533.81 L474.5,535.19 L475,535.07 L475.5,535.06 L476,534.48 L476.5,533.18 L477,533.99 L477.5,533.88 L478,534.73 L478.5,533.2 L479,533.52 L479.5,534.19 L480,534.33 L480.5,534.33 L481,533.48 L481.5,533.36 L482,534.44 L482.5,533.69 L483,535 L483.5,534.78 L484,534.53 L484.5,533.48 L485,534.62 L485.5,533.51 L486,534.15 L486.5,534.53 L487,534.58 L487.5,534.98 L488,534.29 L488.5,533.77 L489,533.15 L489.5,535.29 L490,534.03 L490.5,533.12 L491,534.36 L491.5,533.97 L492,534.55 L492.5,533.68 L493,533.79 L493.5,533.64 L494,533.56 L494.5,533.82 L495,533.44 L495.5,534.29 L496,534.36 L496.5,533.92 L497,532.92 L497.5,533.64 L498,533.86 L498.5,532.39 L499,531.81 L499.5,532.3 L500,532.97 L500.5,531.93 L501,532.04 L501.5,533.53 L502,534.18 L502.5,534.53 L503,532.81 L503.5,532.86 L504,532.93 L504.5,534.54 L505,534.97 L505.5,533.5 L506,533.41 L506.5,535.15 L507,533.38 L507.5,535.03 L508,534.91 L508.5,534.7 L509,535.26 L509.5,533.27 L510,533.39 L510.5,533.57 L511,535.03 L511.5,534.88 L512,534.27 L512.5,533.38 L513,533.55 L513.5,533.45 L514,533.3 L514.5,535.18 L515,534.67 L515.5,533.95 L516,533.45 L516.5,534.88 L517,533.3 L517.5,534.73 L518,533.98 L518.5,534.4 L519,534.57 L519.5,535.22 L520,533.86 L520.5,533.76 L521,535.09 L521.5,534.55 L522,534.81" fill="none" stroke="#8a8a8a" stroke-width="2.2" stroke-linejoin="round"/>
<path d="M339.5,553.79 L340,554.2 L340.5,553.52 L341,553.15 L341.5,554.27 L342,554.26 L342.5,554.23 L343,553.55 L343.5,553.65 L344,553.82 L344.5,553.81 L345,554.28 L345.5,554.21 L346,554.12 L346.5,553.44 L347,553.04 L347.5,553.25 L348,554.16 L348.5,553.79 L349,553.55 L349.5,554.12 L350,553.54 L350.5,553.49 L351,553.9 L351.5,552.93 L352,553.98 L352.5,553.54 L353,553.7 L353.5,553.96 L354,553.97 L354.5,553.6 L355,553.71 L355.5,552.74 L356,553.74 L356.5,553.42 L357,553.71 L357.5,553.18 L358,553.26 L358.5,552.76 L359,552.72 L359.5,552.44 L360,552.61 L360.5,552.91 L361,552.9 L361.5,553.42 L362,553.35 L362.5,552.32 L363,552.15 L363.5,552.8 L364,552.86 L364.5,552.92 L365,552.72 L365.5,551.97 L366,551.61 L366.5,552.38 L367,551.49 L367.5,551.42 L368,552.1 L368.5,552.32 L369,551.66 L369.5,551.1 L370,551.24 L370.5,551.91 L371,551.3 L371.5,551.26 L372,551.32 L372.5,551.38 L373,551.44 L373.5,551.61 L374,550.77 L374.5,551.47 L375,551.56 L375.5,550.78 L376,551.37 L376.5,550.47 L377,550.57 L377.5,551.42 L378,550.51 L378.5,550.66 L379,550.75 L379.5,549.63 L380,549.53 L380.5,548.98 L381,549.06 L381.5,548.29 L382,546.19 L382.5,544.83 L383,543.75 L383.5,540.92 L384,538.51 L384.5,536.02 L385,532.72 L385.5,529.7 L386,527.72 L386.5,528.36 L387,529.26 L387.5,531.67 L388,535.62 L388.5,538.26 L389,541.66 L389.5,543.59 L390,545.26 L390.5,547.41 L391,548.76 L391.5,549.4 L392,549.72 L392.5,550.23 L393,550.67 L393.5,551.23 L394,551.96 L394.5,551.51 L395,552.53 L395.5,551.99 L396,552.45 L396.5,552.86 L397,552.13 L397.5,552.78 L398,552.7 L398.5,552.79 L399,553.12 L399.5,553.03 L400,552.54 L400.5,553.32 L401,553.22 L401.5,553.15 L402,552.81 L402.5,552.71 L403,553 L403.5,553.3 L404,553.97 L404.5,553.51 L405,553.02 L405.5,553.06 L406,553.82 L406.5,553.38 L407,553.22 L407.5,553.88 L408,553.07 L408.5,553.24 L409,553.37 L409.5,553.57 L410,554.16 L410.5,553.7 L411,553.08 L411.5,553.76 L412,554.09 L412.5,554.19 L413,553.96 L413.5,554.23 L414,553.13 L414.5,553.21 L415,554.21 L415.5,553.8 L416,554.31 L416.5,554.03 L417,554.07 L417.5,554.08 L418,554.26 L418.5,553.88 L419,553.6 L419.5,553.88 L420,554.27 L420.5,554.1 L421,554.22 L421.5,554.38 L422,554.04 L422.5,553.37 L423,553.91 L423.5,554.19 L424,553.65 L424.5,553.64 L425,553.56 L425.5,553.67 L426,553.51 L426.5,554.4 L427,554.36 L427.5,553.79 L428,553.83 L428.5,554.41 L429,553.91 L429.5,554 L430,553.57 L430.5,553.83 L431,554.28 L431.5,554.47 L432,553.37 L432.5,553.78 L433,553.3 L433.5,553.33 L434,554.39 L434.5,554.26 L435,553.55 L435.5,554.21 L436,553.93 L436.5,553.5 L437,553.65 L437.5,553.64 L438,553.39 L438.5,553.84 L439,553.47 L439.5,553.73 L440,553.99 L440.5,553.56 L441,553.34 L441.5,553.45 L442,554.21 L442.5,553.6 L443,553.66 L443.5,554.38 L444,554.04 L444.5,553.97 L445,554.3 L445.5,553.84 L446,554.1 L446.5,553.38 L447,553.72 L447.5,554.32 L448,553.78 L448.5,553.64 L449,554.01 L449.5,553.59 L450,553.96 L450.5,554.5 L451,553.81 L451.5,554.13 L452,554.51 L452.5,554.41 L453,554.51 L453.5,554.12 L454,553.83 L454.5,554.23 L455,553.87 L455.5,554.32 L456,553.68 L456.5,554.13 L457,553.8 L457.5,554.43 L458,553.75 L458.5,553.84 L459,553.7 L459.5,553.4 L460,554.29 L460.5,554.26 L461,553.36 L461.5,553.46 L462,554.44 L462.5,553.7 L463,554.05 L463.5,554.05 L464,554.42 L464.5,553.58 L465,553.98 L465.5,553.38 L466,554.03 L466.5,554.24 L467,553.91 L467.5,554.53 L468,554.47 L468.5,553.72 L469,554.14 L469.5,554.52 L470,553.41 L470.5,553.95 L471,553.56 L471.5,553.56 L472,554.37 L472.5,553.71 L473,554.51 L473.5,553.93 L474,553.93 L474.5,554.41 L475,553.77 L475.5,553.56 L476,553.58 L476.5,554.1 L477,554.07 L477.5,554.02 L478,554.17 L478.5,553.91 L479,553.87 L479.5,553.79 L480,554.09 L480.5,553.86 L481,554.02 L481.5,554.3 L482,554.53 L482.5,554.43 L483,554.44 L483.5,553.76 L484,554.05 L484.5,554.44 L485,554.46 L485.5,553.53 L486,554.49 L486.5,553.84 L487,553.48 L487.5,553.8 L488,554.54 L488.5,553.93 L489,553.38 L489.5,554.54 L490,554.26 L490.5,553.74 L491,553.44 L491.5,553.89 L492,553.69 L492.5,554.55 L493,553.62 L493.5,553.92 L494,554.01 L494.5,554.4 L495,553.68 L495.5,554.5 L496,553.82 L496.5,553.57 L497,554.19 L497.5,553.97 L498,554.05 L498.5,553.96 L499,554.06 L499.5,553.48 L500,553.5 L500.5,553.79 L501,553.77 L501.5,554.57 L502,554.51 L502.5,553.76 L503,553.72 L503.5,554.47 L504,554.4 L504.5,553.52 L505,554.17 L505.5,553.96 L506,553.67 L506.5,553.74 L507,553.73 L507.5,553.53 L508,553.87 L508.5,554.44 L509,554.13 L509.5,554.25 L510,554.57 L510.5,553.79 L511,553.56 L511.5,554.23 L512,554.16 L512.5,554.2 L513,554.22 L513.5,554.16 L514,554.33 L514.5,554.51 L515,553.43 L515.5,553.84 L516,554.18 L516.5,553.44 L517,553.44 L517.5,554.03 L518,554.15 L518.5,554.06 L519,554.48 L519.5,553.58 L520,553.8 L520.5,554.28 L521,554.39 L521.5,553.5 L522,553.46" fill="none" stroke="#000000" stroke-width="1.8" stroke-linejoin="round"/>
<line x1="353.9" y1="374" x2="353.9" y2="554.1" stroke="#f0c650" stroke-width="1.1" stroke-dasharray="3.2 1.7"/>
<line x1="470.5" y1="361.5" x2="470.5" y2="554.1" stroke="#f0c650" stroke-width="1.1" stroke-dasharray="3.2 1.7"/>
<line x1="380.2" y1="386.2" x2="380.2" y2="554.1" stroke="#d63c7c" stroke-width="1.1" stroke-dasharray="1 1"/>
<line x1="502.7" y1="386.2" x2="502.7" y2="554.1" stroke="#d63c7c" stroke-width="1.1" stroke-dasharray="1 1"/>
<text x="358.8" y="35.5" font-size="12">(211)</text>
<text x="473.2" y="35.5" font-size="12">(200)</text>
<text x="335" y="57.7" font-size="12" style="fill:#ecc55c">Mo</text>
<text x="382.4" y="57.7" font-size="12" style="fill:#c8336c">Nb</text>
<text x="358.8" y="381.4" font-size="12">(211)</text>
<text x="473.2" y="380.5" font-size="12">(200)</text>
<text x="335" y="399.5" font-size="12" style="fill:#ecc55c">Mo</text>
<text x="382.4" y="399.5" font-size="12" style="fill:#c8336c">Nb</text>
<text x="27.3" y="259.7" font-size="12">(c)</text>
<text x="291.8" y="265" font-size="12">(d)</text>
<defs><clipPath id="cc"><rect x="42.6" y="248.5" width="232.4" height="92.7"/></clipPath><clipPath id="cd"><rect x="306.9" y="254" width="133.1" height="92.5"/></clipPath></defs>
<defs><clipPath id="cd2"><rect x="306.9" y="254" width="233.1" height="92.5"/></clipPath></defs>
<g clip-path="url(#cc)"><rect x="42.6" y="248.5" width="232.4" height="92.7" fill="#808080"/><polyline points="42.6,252.4 48,253.4 54,254.6 58.5,256 61,252 64,248.5" fill="none" stroke="#000" stroke-width="1.6"/><circle cx="43.6" cy="271.8" r="1.0" fill="#000"/><circle cx="124.0" cy="266.2" r="0.8" fill="#000"/><circle cx="139.3" cy="266.4" r="0.9" fill="#000"/><circle cx="114.2" cy="282.1" r="0.7" fill="#000"/><circle cx="155.2" cy="288.0" r="0.8" fill="#000"/><circle cx="155.6" cy="287.7" r="0.7" fill="#000"/><circle cx="50.8" cy="325.9" r="0.6" fill="#000"/><circle cx="89.0" cy="330.4" r="1.0" fill="#000"/><circle cx="181.1" cy="288.2" r="0.9" fill="#000"/><circle cx="183.0" cy="288.4" r="0.7" fill="#000"/><ellipse cx="149.1" cy="320.3" rx="1.9" ry="1.0" transform="rotate(-35 149.1 320.3)" fill="#000"/><ellipse cx="84.5" cy="325.0" rx="0.8" ry="1.4" transform="rotate(20 84.5 325.0)" fill="#000"/><polygon points="42.6,321.4 46.0,322.5 50.9,324.6 55.5,327.5 59.6,331.2 61.3,335.0 61.8,341.2 58.5,341.2 57.8,337.0 56.4,333.8 52.5,331.2 48.7,329.4 45.5,329.8 42.6,330.6" fill="#000"/><path d="M83.3,334.8 C83.9,334.1 86.4,333.4 87.7,333.3 C89.0,333.2 90.2,333.5 91.2,334.2 C92.2,334.9 92.9,336.2 93.8,337.4 C94.7,338.6 97.9,340.6 96.5,341.2 C95.1,341.8 87.5,341.8 85.5,341.2 C83.5,340.6 84.6,338.7 84.2,337.6 C83.8,336.5 82.7,335.5 83.3,334.8 Z" fill="#000"/><circle cx="80.7" cy="339.0" r="2.3" fill="#000"/><circle cx="80.7" cy="339.0" r="1.2" fill="#fff"/><path d="M236.4,249.1 C237.0,248.2 239.5,248.5 241.8,248.4 C244.1,248.3 247.5,248.2 250.0,248.4 C252.5,248.6 254.8,248.6 256.8,249.6 C258.9,250.6 260.8,252.9 262.3,254.3 C263.8,255.7 265.7,257.0 265.9,258.0 C266.1,259.0 265.2,259.6 263.7,260.3 C262.2,261.0 258.9,261.9 256.8,262.3 C254.8,262.7 253.2,263.1 251.4,262.9 C249.6,262.7 247.6,261.7 245.9,260.9 C244.2,260.1 242.5,259.4 241.2,258.2 C239.9,257.0 239.0,255.4 238.2,253.9 C237.4,252.4 235.8,250.0 236.4,249.1 Z" fill="#000"/><circle cx="244.6" cy="252.5" r="0.8" fill="#bbb"/><circle cx="250.0" cy="254.5" r="0.7" fill="#bbb"/><circle cx="254.1" cy="255.9" r="0.6" fill="#bbb"/><circle cx="248.0" cy="251.5" r="0.5" fill="#bbb"/><ellipse cx="270.5" cy="259.6" rx="2.8" ry="1.3" transform="rotate(20 270.5 259.6)" fill="#000"/><rect x="270.8" y="248.5" width="4.2" height="7" fill="#6e6e6e"/><path d="M227.5,253.9 C226.3,254.0 223.3,254.2 221.4,255.2 C219.5,256.2 217.1,258.8 215.9,260.0 C214.7,261.2 214.1,261.8 214.3,262.7 C214.5,263.6 215.9,263.9 217.3,265.2 C218.7,266.5 221.0,268.7 222.7,270.6 C224.4,272.5 226.1,275.2 227.3,276.6 C228.6,278.0 229.5,278.8 230.2,278.8 C230.9,278.8 231.8,277.7 231.3,276.4 C230.8,275.1 228.8,272.8 227.2,270.9 C225.6,269.0 223.1,266.7 221.6,265.3 C220.1,263.9 218.6,263.6 218.4,262.7 C218.2,261.8 219.2,260.7 220.2,259.6 C221.1,258.5 222.7,257.1 224.1,256.3 C225.5,255.5 227.8,255.0 228.4,254.6 C229.0,254.2 228.7,253.8 227.5,253.9 Z" fill="#000"/><circle cx="216.2" cy="262.2" r="0.9" fill="#ccc"/><circle cx="235.0" cy="263.4" r="1.9" fill="#000"/><circle cx="235.0" cy="263.4" r="1.0" fill="#ddd"/><path d="M187.3,299.5 C187.6,298.8 189.8,298.9 191.0,298.4 C192.2,297.9 193.2,296.6 194.5,296.3 C195.8,296.0 198.3,296.2 198.6,296.8 C198.8,297.4 196.8,298.9 196.0,299.8 C195.2,300.7 193.7,300.9 193.5,302.0 C193.3,303.1 194.9,305.9 194.7,306.4 C194.5,306.9 193.1,305.6 192.2,305.0 C191.2,304.4 189.8,303.5 189.0,302.6 C188.2,301.7 187.0,300.2 187.3,299.5 Z" fill="#000"/><ellipse cx="252.7" cy="325.0" rx="1.8" ry="1.3" transform="rotate(40 252.7 325.0)" fill="#000"/><ellipse cx="272.5" cy="325.7" rx="2.3" ry="1.6" transform="rotate(10 272.5 325.7)" fill="#000"/><ellipse cx="225.0" cy="335.0" rx="2.8" ry="1.7" transform="rotate(10 225.0 335.0)" fill="#000"/><ellipse cx="219.5" cy="339.0" rx="2.6" ry="1.6" transform="rotate(0 219.5 339.0)" fill="#000"/><line x1="213.2" y1="337.6" x2="240.8" y2="337.6" stroke="#fff" stroke-width="1.8"/><text x="241.8" y="338.6" font-size="11" style="fill:#fff">50 µm</text></g>
<g clip-path="url(#cd2)"><rect x="306.9" y="254" width="233.1" height="92.5" fill="#808080"/><path d="M433.1,260.8 C434.5,259.8 438.1,258.8 439.5,259.5 C440.9,260.2 441.0,263.1 441.4,265.3 C441.8,267.5 440.8,271.7 442.0,272.9 C443.2,274.1 447.8,271.9 448.4,272.3 C449.0,272.7 447.7,274.6 445.8,275.5 C443.9,276.4 439.2,276.7 436.9,277.4 C434.6,278.1 433.5,279.6 431.8,279.9 C430.1,280.2 427.6,280.1 426.7,279.3 C425.8,278.5 425.5,276.2 426.1,274.8 C426.7,273.4 429.6,272.6 430.5,271.0 C431.4,269.4 430.8,267.0 431.2,265.3 C431.6,263.6 431.7,261.8 433.1,260.8 Z" fill="#787878"/><polyline points="422.9,271 428,272.3 434.4,274.8" fill="none" stroke="#333" stroke-width="0.9"/><path d="M469.1,322.3 C469.6,320.8 475.3,317.3 478.8,316.7 C482.3,316.1 486.4,317.5 489.9,318.8 C493.3,320.1 498.4,322.2 499.5,324.3 C500.6,326.4 499.1,330.5 496.8,331.3 C494.5,332.1 489.1,330.1 485.7,329.2 C482.2,328.3 478.9,326.8 476.1,325.7 C473.3,324.6 468.7,323.8 469.1,322.3 Z" fill="#7b7b7b"/><path d="M520.5,293.0 C521.5,290.9 525.8,292.3 528.0,293.5 C530.2,294.7 532.7,296.9 533.5,300.0 C534.3,303.1 534.1,309.7 533.0,312.0 C531.9,314.3 528.8,315.0 527.0,314.0 C525.2,313.0 523.1,309.5 522.0,306.0 C520.9,302.5 519.5,295.1 520.5,293.0 Z" fill="#7a7a7a"/><polyline points="349.7,254 354,259.8 353.3,266 353,274" fill="none" stroke="#3a3a3a" stroke-width="0.9"/><polyline points="354,259.8 358,260.5 362.8,259.6" fill="none" stroke="#555" stroke-width="0.7"/><polyline points="388.5,254 390,257" fill="none" stroke="#333" stroke-width="0.9"/><polyline points="414.5,254 413,257.5" fill="none" stroke="#333" stroke-width="0.9"/><circle cx="375.3" cy="286.7" r="1.1" fill="#000"/><circle cx="381.0" cy="291.9" r="0.8" fill="#000"/><circle cx="370.5" cy="313.3" r="0.9" fill="#000"/><circle cx="397.0" cy="326.8" r="1.0" fill="#000"/><circle cx="419.5" cy="327.5" r="1.0" fill="#000"/><circle cx="422.8" cy="269.6" r="0.8" fill="#000"/><circle cx="414.0" cy="288.2" r="0.8" fill="#000"/><circle cx="425.5" cy="292.0" r="1.0" fill="#000"/><circle cx="433.7" cy="315.5" r="1.1" fill="#000"/><circle cx="484.5" cy="285.0" r="0.9" fill="#000"/><circle cx="492.5" cy="296.2" r="1.2" fill="#000"/><circle cx="501.8" cy="299.0" r="1.0" fill="#000"/><circle cx="502.0" cy="305.5" r="2.0" fill="#000"/><circle cx="493.0" cy="308.5" r="1.2" fill="#000"/><circle cx="491.0" cy="311.5" r="1.1" fill="#000"/><circle cx="507.0" cy="310.0" r="2.3" fill="#000"/><circle cx="504.5" cy="316.5" r="0.8" fill="#000"/><circle cx="536.4" cy="302.3" r="1.0" fill="#000"/><circle cx="371.0" cy="314.0" r="1.0" fill="#000"/><circle cx="327.6" cy="342.0" r="0.6" fill="#000"/><ellipse cx="329.0" cy="282.7" rx="0.8" ry="2.0" transform="rotate(30 329.0 282.7)" fill="#000"/><ellipse cx="455.4" cy="301.9" rx="1.6" ry="1.1" transform="rotate(-30 455.4 301.9)" fill="#000"/><ellipse cx="414.0" cy="255.6" rx="0.8" ry="1.8" transform="rotate(20 414.0 255.6)" fill="#000"/><line x1="489" y1="289.5" x2="485.5" y2="296" stroke="#222" stroke-width="0.8"/><path d="M471.0,270.5 C471.8,270.8 477.4,273.5 480.0,274.3 C482.6,275.1 484.9,274.8 486.5,275.2 C488.1,275.6 489.4,276.2 489.4,277.0 C489.4,277.8 487.7,279.7 486.5,279.7 C485.3,279.7 483.9,278.3 482.0,277.2 C480.1,276.1 476.8,273.9 475.0,272.8 C473.2,271.7 470.2,270.2 471.0,270.5 Z" fill="#000"/><path d="M328.3,335.0 C328.7,334.3 332.0,333.9 334.0,333.3 C336.0,332.7 338.5,332.2 340.4,331.2 C342.3,330.2 344.0,328.5 345.5,327.4 C347.0,326.3 349.5,324.2 349.6,324.5 C349.7,324.8 347.0,327.7 346.1,329.3 C345.2,330.9 344.6,332.5 344.2,334.4 C343.8,336.3 343.4,338.7 343.5,340.7 C343.6,342.7 346.4,345.5 345.0,346.5 C343.6,347.5 337.1,347.2 335.3,346.5 C333.5,345.8 334.6,343.5 334.0,342.0 C333.4,340.5 332.4,338.7 331.5,337.5 C330.6,336.3 327.9,335.7 328.3,335.0 Z" fill="#000"/><path d="M350.4,315.2 C350.6,314.9 352.5,318.6 353.6,319.6 C354.7,320.6 355.8,320.9 357.2,321.4 C358.6,321.9 360.4,322.3 362.0,322.5 C363.6,322.7 365.0,322.6 366.5,322.4 C368.0,322.2 369.7,321.7 371.0,321.2 C372.3,320.7 373.4,319.9 374.5,319.2 C375.6,318.5 377.2,316.6 377.6,317.2 C378.0,317.8 377.1,320.7 376.9,322.6 C376.7,324.5 376.4,326.5 376.2,328.5 C376.0,330.5 376.0,333.6 375.6,334.6 C375.2,335.7 374.6,335.2 373.6,334.8 C372.6,334.4 371.0,333.0 369.5,332.1 C368.0,331.2 366.3,330.2 364.5,329.2 C362.7,328.2 360.5,327.1 358.6,326.3 C356.8,325.5 354.7,324.8 353.4,324.3 C352.1,323.9 350.8,324.1 350.6,323.6 C350.4,323.1 352.3,322.6 352.3,321.2 C352.3,319.8 350.2,315.5 350.4,315.2 Z" fill="#000"/><path d="M376.0,339.5 C376.9,338.8 378.9,340.8 379.2,342.0 C379.5,343.2 378.6,345.8 377.6,346.5 C376.7,347.2 373.8,347.7 373.5,346.5 C373.2,345.3 375.1,340.2 376.0,339.5 Z" fill="#000"/><path d="M504.1,268.2 C504.7,267.8 507.9,269.9 509.8,270.0 C511.7,270.1 514.6,268.8 515.5,269.1 C516.4,269.4 515.6,271.0 515.3,272.0 C515.0,273.0 513.9,274.1 513.9,275.3 C513.9,276.5 514.3,277.9 515.1,279.1 C515.9,280.3 517.7,281.2 518.8,282.4 C519.9,283.6 520.6,285.1 521.5,286.5 C522.4,287.9 524.1,289.6 524.0,290.5 C523.9,291.4 522.1,292.2 521.1,292.2 C520.1,292.2 518.9,291.4 517.7,290.4 C516.6,289.4 515.3,287.8 514.2,286.4 C513.1,285.0 511.9,283.2 510.9,281.8 C509.9,280.4 508.8,279.2 508.4,278.2 C507.9,277.2 508.5,276.7 508.2,275.7 C507.9,274.7 507.1,273.4 506.4,272.2 C505.7,270.9 503.5,268.6 504.1,268.2 Z" fill="#000"/><polygon points="525.9,269.1 528.5,270.8 531.0,272.8 534.3,277.0 536.0,281.6 535.1,286.2 533.5,290.0 531.8,292.9 534.5,294.2 540.2,296.5 540.2,279.1 538.5,275.3 535.1,272.0 530.1,269.5 527.5,268.6" fill="#000"/><ellipse cx="526.4" cy="277.4" rx="2.6" ry="2.4" transform="rotate(0 526.4 277.4)" fill="#000"/><ellipse cx="525.1" cy="290.8" rx="3.0" ry="2.5" transform="rotate(20 525.1 290.8)" fill="#000"/><path d="M479.5,328.5 C480.2,327.8 483.3,329.9 485.7,330.6 C488.1,331.3 493.1,332.1 494.0,332.6 C494.9,333.1 492.5,333.4 491.3,333.5 C490.1,333.6 487.5,332.4 486.6,333.0 C485.7,333.6 486.1,335.5 485.9,336.8 C485.7,338.1 485.8,340.3 485.2,341.0 C484.6,341.7 482.9,342.1 482.3,341.0 C481.7,339.9 482.1,336.8 481.6,334.7 C481.1,332.6 478.8,329.2 479.5,328.5 Z" fill="#000"/><ellipse cx="496.5" cy="343.5" rx="2.8" ry="2.4" transform="rotate(0 496.5 343.5)" fill="#000"/><circle cx="477.4" cy="345.0" r="0.9" fill="#000"/><polygon points="516.8,346.5 521.7,336.1 529.3,346.5" fill="#000"/><line x1="477.4" y1="342.1" x2="505.3" y2="342.1" stroke="#fff" stroke-width="1.8"/><text x="506.1" y="343.4" font-size="11" style="fill:#fff">50 µm</text></g>
</svg></body></html>
